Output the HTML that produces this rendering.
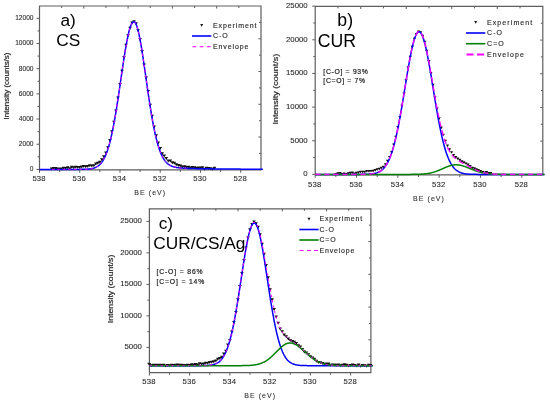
<!DOCTYPE html>
<html><head><meta charset="utf-8"><style>
html,body{margin:0;padding:0;background:#fff;}
body{width:550px;height:402px;overflow:hidden;}
svg{display:block;font-family:"Liberation Sans", Arial, sans-serif;filter:blur(0.25px);}
</style></head><body>
<svg width="550" height="402" viewBox="0 0 550 402">
<rect width="550" height="402" fill="#fff"/>
<path d="M39.5,169.8V6H261V169.8H39.5" fill="none" stroke="#5e5e5e" stroke-width="1.2"/>
<path d="M61.65,6v2M261,22.38h-2M83.80,6v2.6M261,38.76h-2.6M105.95,6v2M261,55.14h-2M128.10,6v2.6M261,71.52h-2.6M150.25,6v2M261,87.90h-2M172.40,6v2.6M261,104.28h-2.6M194.55,6v2M261,120.66h-2M216.70,6v2.6M261,137.04h-2.6M238.85,6v2M261,153.42h-2M39.50,169.8v3M59.62,169.8v2.2M79.74,169.8v3M99.86,169.8v2.2M119.98,169.8v3M140.10,169.8v2.2M160.22,169.8v3M180.34,169.8v2.2M200.46,169.8v3M220.58,169.8v2.2M240.70,169.8v3M39.5,169.40h-3M39.5,144.22h-3M39.5,119.04h-3M39.5,93.86h-3M39.5,68.68h-3M39.5,43.50h-3M39.5,18.32h-3M39.5,156.81h-2M39.5,131.63h-2M39.5,106.45h-2M39.5,81.27h-2M39.5,56.09h-2M39.5,30.91h-2" fill="none" stroke="#5e5e5e" stroke-width="1"/>
<path d="M49.77,167.57h3.6l-1.8,3.0zM51.78,166.92h3.6l-1.8,3.0zM53.80,166.92h3.6l-1.8,3.0zM55.81,167.62h3.6l-1.8,3.0zM57.82,167.46h3.6l-1.8,3.0zM59.83,167.40h3.6l-1.8,3.0zM61.84,166.76h3.6l-1.8,3.0zM63.86,166.88h3.6l-1.8,3.0zM65.87,166.36h3.6l-1.8,3.0zM67.88,167.34h3.6l-1.8,3.0zM69.89,165.68h3.6l-1.8,3.0zM71.90,166.25h3.6l-1.8,3.0zM73.92,165.74h3.6l-1.8,3.0zM75.93,165.93h3.6l-1.8,3.0zM77.94,165.90h3.6l-1.8,3.0zM79.95,165.38h3.6l-1.8,3.0zM81.96,165.06h3.6l-1.8,3.0zM83.98,165.31h3.6l-1.8,3.0zM85.99,165.04h3.6l-1.8,3.0zM88.00,164.35h3.6l-1.8,3.0zM90.01,164.59h3.6l-1.8,3.0zM92.02,164.24h3.6l-1.8,3.0zM94.04,162.51h3.6l-1.8,3.0zM96.05,161.70h3.6l-1.8,3.0zM98.06,160.87h3.6l-1.8,3.0zM100.07,158.31h3.6l-1.8,3.0zM102.08,155.21h3.6l-1.8,3.0zM104.10,151.51h3.6l-1.8,3.0zM106.11,146.35h3.6l-1.8,3.0zM108.12,138.95h3.6l-1.8,3.0zM110.13,130.20h3.6l-1.8,3.0zM112.14,120.77h3.6l-1.8,3.0zM114.16,109.60h3.6l-1.8,3.0zM116.17,96.51h3.6l-1.8,3.0zM118.18,82.96h3.6l-1.8,3.0zM120.19,69.76h3.6l-1.8,3.0zM122.20,56.14h3.6l-1.8,3.0zM124.22,43.84h3.6l-1.8,3.0zM126.23,34.19h3.6l-1.8,3.0zM128.24,26.64h3.6l-1.8,3.0zM130.25,21.40h3.6l-1.8,3.0zM132.26,20.14h3.6l-1.8,3.0zM134.28,22.26h3.6l-1.8,3.0zM136.29,29.32h3.6l-1.8,3.0zM138.30,38.23h3.6l-1.8,3.0zM140.31,49.90h3.6l-1.8,3.0zM142.32,63.44h3.6l-1.8,3.0zM144.34,76.47h3.6l-1.8,3.0zM146.35,90.08h3.6l-1.8,3.0zM148.36,103.74h3.6l-1.8,3.0zM150.37,114.74h3.6l-1.8,3.0zM152.38,125.46h3.6l-1.8,3.0zM154.40,134.31h3.6l-1.8,3.0zM156.41,141.57h3.6l-1.8,3.0zM158.42,146.98h3.6l-1.8,3.0zM160.43,152.30h3.6l-1.8,3.0zM162.44,154.62h3.6l-1.8,3.0zM164.46,156.88h3.6l-1.8,3.0zM166.47,159.46h3.6l-1.8,3.0zM168.48,159.53h3.6l-1.8,3.0zM170.49,161.20h3.6l-1.8,3.0zM172.50,161.87h3.6l-1.8,3.0zM174.52,163.34h3.6l-1.8,3.0zM176.53,163.96h3.6l-1.8,3.0zM178.54,164.52h3.6l-1.8,3.0zM180.55,165.44h3.6l-1.8,3.0zM182.56,165.14h3.6l-1.8,3.0zM184.58,165.77h3.6l-1.8,3.0zM186.59,165.82h3.6l-1.8,3.0zM188.60,166.56h3.6l-1.8,3.0zM190.61,165.99h3.6l-1.8,3.0zM192.62,166.33h3.6l-1.8,3.0zM194.64,166.80h3.6l-1.8,3.0zM196.65,166.57h3.6l-1.8,3.0zM198.66,166.41h3.6l-1.8,3.0zM200.67,166.23h3.6l-1.8,3.0zM202.68,167.76h3.6l-1.8,3.0zM204.70,166.73h3.6l-1.8,3.0zM206.71,166.96h3.6l-1.8,3.0zM208.72,167.26h3.6l-1.8,3.0zM210.73,167.70h3.6l-1.8,3.0zM212.74,166.75h3.6l-1.8,3.0z" fill="#111"/>
<path d="M39.50,169.40L39.90,169.40L40.30,169.40L40.71,169.40L41.11,169.40L41.51,169.40L41.91,169.40L42.32,169.40L42.72,169.40L43.12,169.40L43.52,169.40L43.93,169.40L44.33,169.40L44.73,169.40L45.13,169.40L45.54,169.40L45.94,169.40L46.34,169.40L46.74,169.40L47.15,169.40L47.55,169.40L47.95,169.40L48.35,169.40L48.76,169.40L49.16,169.40L49.56,169.40L49.96,169.40L50.36,169.40L50.77,169.40L51.17,169.40L51.57,169.40L51.97,169.40L52.38,169.40L52.78,169.40L53.18,169.40L53.58,169.40L53.99,169.40L54.39,169.40L54.79,169.40L55.19,169.40L55.60,169.40L56.00,169.40L56.40,169.40L56.80,169.40L57.21,169.40L57.61,169.40L58.01,169.40L58.41,169.40L58.82,169.40L59.22,169.40L59.62,169.40L60.02,169.40L60.42,169.40L60.83,169.40L61.23,169.40L61.63,169.40L62.03,169.40L62.44,169.40L62.84,169.40L63.24,169.40L63.64,169.40L64.05,169.40L64.45,169.40L64.85,169.40L65.25,169.40L65.66,169.40L66.06,169.40L66.46,169.40L66.86,169.40L67.27,169.40L67.67,169.40L68.07,169.40L68.47,169.40L68.88,169.40L69.28,169.40L69.68,169.40L70.08,169.40L70.48,169.40L70.89,169.40L71.29,169.40L71.69,169.40L72.09,169.40L72.50,169.40L72.90,169.40L73.30,169.40L73.70,169.40L74.11,169.40L74.51,169.40L74.91,169.39L75.31,169.39L75.72,169.39L76.12,169.39L76.52,169.39L76.92,169.39L77.33,169.39L77.73,169.39L78.13,169.38L78.53,169.38L78.94,169.38L79.34,169.38L79.74,169.37L80.14,169.37L80.54,169.37L80.95,169.36L81.35,169.36L81.75,169.35L82.15,169.34L82.56,169.34L82.96,169.33L83.36,169.32L83.76,169.31L84.17,169.30L84.57,169.29L84.97,169.27L85.37,169.26L85.78,169.24L86.18,169.22L86.58,169.20L86.98,169.18L87.39,169.15L87.79,169.12L88.19,169.09L88.59,169.05L89.00,169.01L89.40,168.97L89.80,168.92L90.20,168.87L90.60,168.81L91.01,168.75L91.41,168.68L91.81,168.60L92.21,168.52L92.62,168.43L93.02,168.33L93.42,168.22L93.82,168.10L94.23,167.97L94.63,167.83L95.03,167.67L95.43,167.51L95.84,167.33L96.24,167.13L96.64,166.92L97.04,166.69L97.45,166.45L97.85,166.18L98.25,165.90L98.65,165.59L99.06,165.26L99.46,164.90L99.86,164.52L100.26,164.11L100.66,163.67L101.07,163.21L101.47,162.71L101.87,162.18L102.27,161.61L102.68,161.00L103.08,160.36L103.48,159.68L103.88,158.96L104.29,158.19L104.69,157.38L105.09,156.53L105.49,155.62L105.90,154.67L106.30,153.66L106.70,152.60L107.10,151.49L107.51,150.33L107.91,149.10L108.31,147.82L108.71,146.48L109.12,145.08L109.52,143.62L109.92,142.10L110.32,140.51L110.72,138.87L111.13,137.16L111.53,135.38L111.93,133.55L112.33,131.65L112.74,129.69L113.14,127.66L113.54,125.58L113.94,123.44L114.35,121.23L114.75,118.97L115.15,116.66L115.55,114.29L115.96,111.86L116.36,109.39L116.76,106.88L117.16,104.32L117.57,101.72L117.97,99.09L118.37,96.42L118.77,93.72L119.18,91.00L119.58,88.26L119.98,85.50L120.38,82.74L120.78,79.97L121.19,77.19L121.59,74.43L121.99,71.67L122.39,68.93L122.80,66.21L123.20,63.52L123.60,60.86L124.00,58.25L124.41,55.68L124.81,53.16L125.21,50.70L125.61,48.30L126.02,45.98L126.42,43.73L126.82,41.56L127.22,39.48L127.63,37.49L128.03,35.60L128.43,33.81L128.83,32.13L129.24,30.56L129.64,29.11L130.04,27.78L130.44,26.57L130.84,25.49L131.25,24.55L131.65,23.73L132.05,23.05L132.45,22.51L132.86,22.11L133.26,21.85L133.66,21.73L134.06,21.75L134.47,21.94L134.87,22.28L135.27,22.78L135.67,23.44L136.08,24.25L136.48,25.21L136.88,26.31L137.28,27.56L137.69,28.95L138.09,30.47L138.49,32.11L138.89,33.88L139.30,35.77L139.70,37.76L140.10,39.86L140.50,42.06L140.90,44.34L141.31,46.71L141.71,49.15L142.11,51.66L142.51,54.24L142.92,56.87L143.32,59.54L143.72,62.26L144.12,65.01L144.53,67.80L144.93,70.60L145.33,73.42L145.73,76.24L146.14,79.07L146.54,81.90L146.94,84.72L147.34,87.52L147.75,90.31L148.15,93.07L148.55,95.81L148.95,98.51L149.36,101.18L149.76,103.80L150.16,106.38L150.56,108.92L150.96,111.40L151.37,113.83L151.77,116.21L152.17,118.53L152.57,120.79L152.98,122.99L153.38,125.12L153.78,127.20L154.18,129.21L154.59,131.15L154.99,133.03L155.39,134.84L155.79,136.59L156.20,138.28L156.60,139.90L157.00,141.45L157.40,142.94L157.81,144.37L158.21,145.74L158.61,147.04L159.01,148.29L159.42,149.48L159.82,150.61L160.22,151.69L160.62,152.71L161.02,153.68L161.43,154.60L161.83,155.47L162.23,156.30L162.63,157.08L163.04,157.81L163.44,158.50L163.84,159.16L164.24,159.77L164.65,160.35L165.05,160.89L165.45,161.40L165.85,161.88L166.26,162.33L166.66,162.75L167.06,163.14L167.46,163.50L167.87,163.85L168.27,164.16L168.67,164.46L169.07,164.74L169.48,165.00L169.88,165.24L170.28,165.46L170.68,165.67L171.08,165.86L171.49,166.04L171.89,166.21L172.29,166.36L172.69,166.51L173.10,166.64L173.50,166.76L173.90,166.88L174.30,166.98L174.71,167.08L175.11,167.17L175.51,167.26L175.91,167.34L176.32,167.41L176.72,167.48L177.12,167.55L177.52,167.61L177.93,167.66L178.33,167.71L178.73,167.76L179.13,167.81L179.54,167.85L179.94,167.89L180.34,167.93L180.74,167.96L181.14,168.00L181.55,168.03L181.95,168.06L182.35,168.09L182.75,168.12L183.16,168.14L183.56,168.16L183.96,168.19L184.36,168.21L184.77,168.23L185.17,168.25L185.57,168.27L185.97,168.29L186.38,168.31L186.78,168.33L187.18,168.34L187.58,168.36L187.99,168.38L188.39,168.39L188.79,168.41L189.19,168.42L189.60,168.43L190.00,168.45L190.40,168.46L190.80,168.47L191.20,168.49L191.61,168.50L192.01,168.51L192.41,168.52L192.81,168.53L193.22,168.55L193.62,168.56L194.02,168.57L194.42,168.58L194.83,168.59L195.23,168.60L195.63,168.61L196.03,168.62L196.44,168.63L196.84,168.64L197.24,168.65L197.64,168.66L198.05,168.66L198.45,168.67L198.85,168.68L199.25,168.69L199.66,168.70L200.06,168.71L200.46,168.71L200.86,168.72L201.26,168.73L201.67,168.74L202.07,168.74L202.47,168.75L202.87,168.76L203.28,168.77L203.68,168.77L204.08,168.78L204.48,168.79L204.89,168.79L205.29,168.80L205.69,168.81L206.09,168.81L206.50,168.82L206.90,168.83L207.30,168.83L207.70,168.84L208.11,168.84L208.51,168.85L208.91,168.85L209.31,168.86L209.72,168.87L210.12,168.87L210.52,168.88L210.92,168.88L211.32,168.89L211.73,168.89L212.13,168.90L212.53,168.90L212.93,168.91L213.34,168.91L213.74,168.92L214.14,168.92L214.54,168.93L214.95,168.93L215.35,168.93L215.75,168.94L216.15,168.94L216.56,168.95L216.96,168.95L217.36,168.96L217.76,168.96L218.17,168.96L218.57,168.97L218.97,168.97L219.37,168.98L219.78,168.98L220.18,168.98L220.58,168.99L220.98,168.99L221.38,168.99L221.79,169.00L222.19,169.00L222.59,169.01L222.99,169.01L223.40,169.01L223.80,169.02L224.20,169.02L224.60,169.02L225.01,169.03L225.41,169.03L225.81,169.03L226.21,169.03L226.62,169.04L227.02,169.04L227.42,169.04L227.82,169.05L228.23,169.05L228.63,169.05L229.03,169.06L229.43,169.06L229.84,169.06L230.24,169.06L230.64,169.07L231.04,169.07L231.44,169.07L231.85,169.07L232.25,169.08L232.65,169.08L233.05,169.08L233.46,169.09L233.86,169.09L234.26,169.09L234.66,169.09L235.07,169.09L235.47,169.10L235.87,169.10L236.27,169.10L236.68,169.10L237.08,169.11L237.48,169.11L237.88,169.11L238.29,169.11L238.69,169.12L239.09,169.12L239.49,169.12L239.90,169.12L240.30,169.12L240.70,169.13L241.10,169.13L241.50,169.13L241.91,169.13L242.31,169.13L242.71,169.14L243.11,169.14L243.52,169.14L243.92,169.14L244.32,169.14L244.72,169.14L245.13,169.15L245.53,169.15L245.93,169.15L246.33,169.15L246.74,169.15L247.14,169.16L247.54,169.16L247.94,169.16L248.35,169.16L248.75,169.16L249.15,169.16L249.55,169.17L249.96,169.17L250.36,169.17L250.76,169.17L251.16,169.17L251.56,169.17L251.97,169.17L252.37,169.18L252.77,169.18L253.17,169.18L253.58,169.18L253.98,169.18L254.38,169.18L254.78,169.18L255.19,169.19L255.59,169.19L255.99,169.19L256.39,169.19L256.80,169.19L257.20,169.19L257.60,169.19L258.00,169.20L258.41,169.20L258.81,169.20L259.21,169.20L259.61,169.20L260.02,169.20L260.42,169.20L260.82,169.20L261.22,169.21L261.62,169.21L262.03,169.21L262.43,169.21L262.83,169.21" fill="none" stroke="#0000ff" stroke-width="1.5"/>
<path d="M51.97,169.40L52.38,169.40L52.78,169.40L53.18,169.40L53.58,169.40L53.99,169.40L54.39,169.40L54.79,169.40L55.19,169.40L55.60,169.40L56.00,169.40L56.40,169.40L56.80,169.40L57.21,169.40L57.61,169.40L58.01,169.40L58.41,169.40L58.82,169.40L59.22,169.40L59.62,169.40L60.02,169.40L60.42,169.40L60.83,169.40L61.23,169.40L61.63,169.40L62.03,169.40L62.44,169.40L62.84,169.40L63.24,169.40L63.64,169.40L64.05,169.40L64.45,169.40L64.85,169.40L65.25,169.40L65.66,169.40L66.06,169.40L66.46,169.40L66.86,169.40L67.27,169.40L67.67,169.40L68.07,169.40L68.47,169.40L68.88,169.40L69.28,169.40L69.68,169.40L70.08,169.40L70.48,169.40L70.89,169.40L71.29,169.40L71.69,169.40L72.09,169.40L72.50,169.40L72.90,169.40L73.30,169.40L73.70,169.40L74.11,169.40L74.51,169.40L74.91,169.39L75.31,169.39L75.72,169.39L76.12,169.39L76.52,169.39L76.92,169.39L77.33,169.39L77.73,169.39L78.13,169.38L78.53,169.38L78.94,169.38L79.34,169.38L79.74,169.37L80.14,169.37L80.54,169.37L80.95,169.36L81.35,169.36L81.75,169.35L82.15,169.34L82.56,169.34L82.96,169.33L83.36,169.32L83.76,169.31L84.17,169.30L84.57,169.29L84.97,169.27L85.37,169.26L85.78,169.24L86.18,169.22L86.58,169.20L86.98,169.18L87.39,169.15L87.79,169.12L88.19,169.09L88.59,169.05L89.00,169.01L89.40,168.97L89.80,168.92L90.20,168.87L90.60,168.81L91.01,168.75L91.41,168.68L91.81,168.60L92.21,168.52L92.62,168.43L93.02,168.33L93.42,168.22L93.82,168.10L94.23,167.97L94.63,167.83L95.03,167.67L95.43,167.51L95.84,167.33L96.24,167.13L96.64,166.92L97.04,166.69L97.45,166.45L97.85,166.18L98.25,165.90L98.65,165.59L99.06,165.26L99.46,164.90L99.86,164.52L100.26,164.11L100.66,163.67L101.07,163.21L101.47,162.71L101.87,162.18L102.27,161.61L102.68,161.00L103.08,160.36L103.48,159.68L103.88,158.96L104.29,158.19L104.69,157.38L105.09,156.53L105.49,155.62L105.90,154.67L106.30,153.66L106.70,152.60L107.10,151.49L107.51,150.33L107.91,149.10L108.31,147.82L108.71,146.48L109.12,145.08L109.52,143.62L109.92,142.10L110.32,140.51L110.72,138.87L111.13,137.16L111.53,135.38L111.93,133.55L112.33,131.65L112.74,129.69L113.14,127.66L113.54,125.58L113.94,123.44L114.35,121.23L114.75,118.97L115.15,116.66L115.55,114.29L115.96,111.86L116.36,109.39L116.76,106.88L117.16,104.32L117.57,101.72L117.97,99.09L118.37,96.42L118.77,93.72L119.18,91.00L119.58,88.26L119.98,85.50L120.38,82.74L120.78,79.97L121.19,77.19L121.59,74.43L121.99,71.67L122.39,68.93L122.80,66.21L123.20,63.52L123.60,60.86L124.00,58.25L124.41,55.68L124.81,53.16L125.21,50.70L125.61,48.30L126.02,45.98L126.42,43.73L126.82,41.56L127.22,39.48L127.63,37.49L128.03,35.60L128.43,33.81L128.83,32.13L129.24,30.56L129.64,29.11L130.04,27.78L130.44,26.57L130.84,25.49L131.25,24.55L131.65,23.73L132.05,23.05L132.45,22.51L132.86,22.11L133.26,21.85L133.66,21.73L134.06,21.75L134.47,21.94L134.87,22.28L135.27,22.78L135.67,23.44L136.08,24.25L136.48,25.21L136.88,26.31L137.28,27.56L137.69,28.95L138.09,30.47L138.49,32.11L138.89,33.88L139.30,35.77L139.70,37.76L140.10,39.86L140.50,42.06L140.90,44.34L141.31,46.71L141.71,49.15L142.11,51.66L142.51,54.24L142.92,56.87L143.32,59.54L143.72,62.26L144.12,65.01L144.53,67.80L144.93,70.60L145.33,73.42L145.73,76.24L146.14,79.07L146.54,81.90L146.94,84.72L147.34,87.52L147.75,90.31L148.15,93.07L148.55,95.81L148.95,98.51L149.36,101.18L149.76,103.80L150.16,106.38L150.56,108.92L150.96,111.40L151.37,113.83L151.77,116.21L152.17,118.53L152.57,120.79L152.98,122.99L153.38,125.12L153.78,127.20L154.18,129.21L154.59,131.15L154.99,133.03L155.39,134.84L155.79,136.59L156.20,138.28L156.60,139.90L157.00,141.45L157.40,142.94L157.81,144.37L158.21,145.74L158.61,147.04L159.01,148.29L159.42,149.48L159.82,150.61L160.22,151.69L160.62,152.71L161.02,153.68L161.43,154.60L161.83,155.47L162.23,156.30L162.63,157.08L163.04,157.81L163.44,158.50L163.84,159.16L164.24,159.77L164.65,160.35L165.05,160.89L165.45,161.40L165.85,161.88L166.26,162.33L166.66,162.75L167.06,163.14L167.46,163.50L167.87,163.85L168.27,164.16L168.67,164.46L169.07,164.74L169.48,165.00L169.88,165.24L170.28,165.46L170.68,165.67L171.08,165.86L171.49,166.04L171.89,166.21L172.29,166.36L172.69,166.51L173.10,166.64L173.50,166.76L173.90,166.88L174.30,166.98L174.71,167.08L175.11,167.17L175.51,167.26L175.91,167.34L176.32,167.41L176.72,167.48L177.12,167.55L177.52,167.61L177.93,167.66L178.33,167.71L178.73,167.76L179.13,167.81L179.54,167.85L179.94,167.89L180.34,167.93L180.74,167.96L181.14,168.00L181.55,168.03L181.95,168.06L182.35,168.09L182.75,168.12L183.16,168.14L183.56,168.16L183.96,168.19L184.36,168.21L184.77,168.23L185.17,168.25L185.57,168.27L185.97,168.29L186.38,168.31" fill="none" stroke="#ff00ff" stroke-width="1.0" stroke-dasharray="2.5 3"/>
<text x="33.5" y="171.38" font-size="6.6" text-anchor="end" fill="#2a2a2a" stroke="#2a2a2a" stroke-width="0.1" letter-spacing="0">0</text>
<text x="33.5" y="146.20" font-size="6.6" text-anchor="end" fill="#2a2a2a" stroke="#2a2a2a" stroke-width="0.1" letter-spacing="0">2000</text>
<text x="33.5" y="121.02" font-size="6.6" text-anchor="end" fill="#2a2a2a" stroke="#2a2a2a" stroke-width="0.1" letter-spacing="0">4000</text>
<text x="33.5" y="95.84" font-size="6.6" text-anchor="end" fill="#2a2a2a" stroke="#2a2a2a" stroke-width="0.1" letter-spacing="0">6000</text>
<text x="33.5" y="70.66" font-size="6.6" text-anchor="end" fill="#2a2a2a" stroke="#2a2a2a" stroke-width="0.1" letter-spacing="0">8000</text>
<text x="33.5" y="45.48" font-size="6.6" text-anchor="end" fill="#2a2a2a" stroke="#2a2a2a" stroke-width="0.1" letter-spacing="0">10000</text>
<text x="33.5" y="20.30" font-size="6.6" text-anchor="end" fill="#2a2a2a" stroke="#2a2a2a" stroke-width="0.1" letter-spacing="0">12000</text>
<text x="39.10" y="180.8" font-size="7.7" text-anchor="middle" fill="#2a2a2a" stroke="#2a2a2a" stroke-width="0.1" letter-spacing="0.2">538</text>
<text x="79.34" y="180.8" font-size="7.7" text-anchor="middle" fill="#2a2a2a" stroke="#2a2a2a" stroke-width="0.1" letter-spacing="0.2">536</text>
<text x="119.58" y="180.8" font-size="7.7" text-anchor="middle" fill="#2a2a2a" stroke="#2a2a2a" stroke-width="0.1" letter-spacing="0.2">534</text>
<text x="159.82" y="180.8" font-size="7.7" text-anchor="middle" fill="#2a2a2a" stroke="#2a2a2a" stroke-width="0.1" letter-spacing="0.2">532</text>
<text x="200.06" y="180.8" font-size="7.7" text-anchor="middle" fill="#2a2a2a" stroke="#2a2a2a" stroke-width="0.1" letter-spacing="0.2">530</text>
<text x="240.30" y="180.8" font-size="7.7" text-anchor="middle" fill="#2a2a2a" stroke="#2a2a2a" stroke-width="0.1" letter-spacing="0.2">528</text>
<text x="150.25" y="195" font-size="7" text-anchor="middle" fill="#2a2a2a" stroke="#2a2a2a" stroke-width="0.06" letter-spacing="1.05">BE (eV)</text>
<text transform="translate(9.0,86) rotate(-90) scale(1,0.85)" font-size="8.0" text-anchor="middle" fill="#2a2a2a" stroke="#2a2a2a" stroke-width="0.25">Intensity (counts/s)</text>
<text x="60.5" y="26" font-size="17.3" fill="#000">a)</text>
<text x="56.2" y="46.4" font-size="17.3" fill="#000">CS</text>
<path d="M200.20,24.10h3l-1.5,2.6z" fill="#111"/>
<text x="213" y="27.50" font-size="7" fill="#2a2a2a" stroke="#2a2a2a" stroke-width="0.14" letter-spacing="0.9">Experiment</text>
<path d="M192,36.00h19.3" stroke="#0000ff" stroke-width="1.6"/>
<text x="213" y="38.20" font-size="7" fill="#2a2a2a" stroke="#2a2a2a" stroke-width="0.14" letter-spacing="0.9">C-O</text>
<path d="M192.5,46.70h19" stroke="#ff00ff" stroke-width="1.1" stroke-dasharray="3.8 3.4"/>
<text x="213" y="48.90" font-size="7" fill="#2a2a2a" stroke="#2a2a2a" stroke-width="0.14" letter-spacing="0.9">Envelope</text>
<path d="M315.2,174.8V6.4H542.8V174.8H315.2" fill="none" stroke="#5e5e5e" stroke-width="1.2"/>
<path d="M337.96,6.4v2M542.8,23.24h-2M360.72,6.4v2.6M542.8,40.08h-2.6M383.48,6.4v2M542.8,56.92h-2M406.24,6.4v2.6M542.8,73.76h-2.6M429.00,6.4v2M542.8,90.60h-2M451.76,6.4v2.6M542.8,107.44h-2.6M474.52,6.4v2M542.8,124.28h-2M497.28,6.4v2.6M542.8,141.12h-2.6M520.04,6.4v2M542.8,157.96h-2M315.20,174.8v3M335.86,174.8v2.2M356.52,174.8v3M377.18,174.8v2.2M397.84,174.8v3M418.50,174.8v2.2M439.16,174.8v3M459.82,174.8v2.2M480.48,174.8v3M501.14,174.8v2.2M521.80,174.8v3M315.2,174.40h-3M315.2,140.75h-3M315.2,107.10h-3M315.2,73.45h-3M315.2,39.80h-3M315.2,6.15h-3M315.2,157.58h-2M315.2,123.93h-2M315.2,90.28h-2M315.2,56.63h-2M315.2,22.98h-2" fill="none" stroke="#5e5e5e" stroke-width="1"/>
<path d="M334.26,172.89h3.2l-1.6,2.7zM336.33,172.34h3.2l-1.6,2.7zM338.39,172.12h3.2l-1.6,2.7zM340.46,173.00h3.2l-1.6,2.7zM342.52,172.60h3.2l-1.6,2.7zM344.59,172.91h3.2l-1.6,2.7zM346.66,172.30h3.2l-1.6,2.7zM348.72,171.78h3.2l-1.6,2.7zM350.79,171.49h3.2l-1.6,2.7zM352.85,172.51h3.2l-1.6,2.7zM354.92,171.87h3.2l-1.6,2.7zM356.99,171.21h3.2l-1.6,2.7zM359.05,170.66h3.2l-1.6,2.7zM361.12,170.72h3.2l-1.6,2.7zM363.18,170.77h3.2l-1.6,2.7zM365.25,170.12h3.2l-1.6,2.7zM367.32,170.06h3.2l-1.6,2.7zM369.38,169.90h3.2l-1.6,2.7zM371.45,169.74h3.2l-1.6,2.7zM373.51,168.94h3.2l-1.6,2.7zM375.58,168.30h3.2l-1.6,2.7zM377.65,167.81h3.2l-1.6,2.7zM379.71,166.84h3.2l-1.6,2.7zM381.78,165.63h3.2l-1.6,2.7zM383.84,163.18h3.2l-1.6,2.7zM385.91,159.63h3.2l-1.6,2.7zM387.98,155.91h3.2l-1.6,2.7zM390.04,150.99h3.2l-1.6,2.7zM392.11,143.56h3.2l-1.6,2.7zM394.17,135.86h3.2l-1.6,2.7zM396.24,126.08h3.2l-1.6,2.7zM398.31,116.14h3.2l-1.6,2.7zM400.37,104.72h3.2l-1.6,2.7zM402.44,92.54h3.2l-1.6,2.7zM404.50,79.00h3.2l-1.6,2.7zM406.57,66.24h3.2l-1.6,2.7zM408.64,55.81h3.2l-1.6,2.7zM410.70,45.84h3.2l-1.6,2.7zM412.77,37.67h3.2l-1.6,2.7zM414.83,32.88h3.2l-1.6,2.7zM416.90,30.39h3.2l-1.6,2.7zM418.97,31.13h3.2l-1.6,2.7zM421.03,34.65h3.2l-1.6,2.7zM423.10,40.78h3.2l-1.6,2.7zM425.16,49.81h3.2l-1.6,2.7zM427.23,59.99h3.2l-1.6,2.7zM429.30,71.99h3.2l-1.6,2.7zM431.36,83.87h3.2l-1.6,2.7zM433.43,96.50h3.2l-1.6,2.7zM435.49,107.59h3.2l-1.6,2.7zM437.56,117.24h3.2l-1.6,2.7zM439.63,126.51h3.2l-1.6,2.7zM441.69,133.65h3.2l-1.6,2.7zM443.76,139.80h3.2l-1.6,2.7zM445.82,144.43h3.2l-1.6,2.7zM447.89,148.35h3.2l-1.6,2.7zM449.96,151.13h3.2l-1.6,2.7zM452.02,153.90h3.2l-1.6,2.7zM454.09,155.97h3.2l-1.6,2.7zM456.15,157.51h3.2l-1.6,2.7zM458.22,158.71h3.2l-1.6,2.7zM460.29,160.21h3.2l-1.6,2.7zM462.35,161.24h3.2l-1.6,2.7zM464.42,162.38h3.2l-1.6,2.7zM466.48,163.52h3.2l-1.6,2.7zM468.55,164.99h3.2l-1.6,2.7zM470.62,166.70h3.2l-1.6,2.7zM472.68,167.31h3.2l-1.6,2.7zM474.75,168.31h3.2l-1.6,2.7zM476.81,168.96h3.2l-1.6,2.7zM478.88,169.92h3.2l-1.6,2.7zM480.95,170.92h3.2l-1.6,2.7zM483.01,171.48h3.2l-1.6,2.7zM485.08,171.12h3.2l-1.6,2.7zM487.14,171.88h3.2l-1.6,2.7zM489.21,171.88h3.2l-1.6,2.7z" fill="#111"/>
<path d="M315.20,174.40L315.61,174.40L316.03,174.40L316.44,174.40L316.85,174.40L317.27,174.40L317.68,174.40L318.09,174.40L318.51,174.40L318.92,174.40L319.33,174.40L319.75,174.40L320.16,174.40L320.57,174.40L320.98,174.40L321.40,174.40L321.81,174.40L322.22,174.40L322.64,174.40L323.05,174.40L323.46,174.40L323.88,174.40L324.29,174.40L324.70,174.40L325.12,174.40L325.53,174.40L325.94,174.40L326.36,174.40L326.77,174.40L327.18,174.40L327.60,174.40L328.01,174.40L328.42,174.40L328.84,174.40L329.25,174.40L329.66,174.40L330.08,174.40L330.49,174.40L330.90,174.40L331.31,174.40L331.73,174.40L332.14,174.40L332.55,174.40L332.97,174.40L333.38,174.40L333.79,174.40L334.21,174.40L334.62,174.40L335.03,174.40L335.45,174.40L335.86,174.40L336.27,174.40L336.69,174.40L337.10,174.40L337.51,174.40L337.93,174.40L338.34,174.40L338.75,174.40L339.17,174.40L339.58,174.40L339.99,174.40L340.41,174.40L340.82,174.40L341.23,174.40L341.64,174.40L342.06,174.40L342.47,174.40L342.88,174.40L343.30,174.40L343.71,174.40L344.12,174.40L344.54,174.40L344.95,174.40L345.36,174.40L345.78,174.40L346.19,174.40L346.60,174.40L347.02,174.40L347.43,174.40L347.84,174.40L348.26,174.40L348.67,174.40L349.08,174.40L349.50,174.40L349.91,174.40L350.32,174.40L350.74,174.40L351.15,174.40L351.56,174.40L351.97,174.40L352.39,174.40L352.80,174.40L353.21,174.40L353.63,174.40L354.04,174.40L354.45,174.40L354.87,174.40L355.28,174.40L355.69,174.39L356.11,174.39L356.52,174.39L356.93,174.39L357.35,174.39L357.76,174.39L358.17,174.39L358.59,174.39L359.00,174.38L359.41,174.38L359.83,174.38L360.24,174.38L360.65,174.37L361.07,174.37L361.48,174.37L361.89,174.36L362.30,174.36L362.72,174.35L363.13,174.35L363.54,174.34L363.96,174.33L364.37,174.33L364.78,174.32L365.20,174.31L365.61,174.30L366.02,174.28L366.44,174.27L366.85,174.25L367.26,174.24L367.68,174.22L368.09,174.20L368.50,174.18L368.92,174.15L369.33,174.12L369.74,174.09L370.16,174.06L370.57,174.02L370.98,173.99L371.40,173.94L371.81,173.89L372.22,173.84L372.63,173.78L373.05,173.72L373.46,173.65L373.87,173.58L374.29,173.50L374.70,173.41L375.11,173.31L375.53,173.21L375.94,173.10L376.35,172.98L376.77,172.84L377.18,172.70L377.59,172.54L378.01,172.38L378.42,172.20L378.83,172.00L379.25,171.79L379.66,171.57L380.07,171.33L380.49,171.07L380.90,170.79L381.31,170.49L381.73,170.17L382.14,169.83L382.55,169.47L382.96,169.08L383.38,168.66L383.79,168.22L384.20,167.75L384.62,167.25L385.03,166.72L385.44,166.16L385.86,165.57L386.27,164.94L386.68,164.27L387.10,163.56L387.51,162.82L387.92,162.04L388.34,161.21L388.75,160.34L389.16,159.43L389.58,158.47L389.99,157.47L390.40,156.42L390.82,155.32L391.23,154.17L391.64,152.96L392.06,151.71L392.47,150.40L392.88,149.05L393.29,147.63L393.71,146.16L394.12,144.64L394.53,143.07L394.95,141.43L395.36,139.75L395.77,138.00L396.19,136.21L396.60,134.36L397.01,132.45L397.43,130.50L397.84,128.49L398.25,126.43L398.67,124.32L399.08,122.17L399.49,119.97L399.91,117.72L400.32,115.44L400.73,113.11L401.15,110.75L401.56,108.36L401.97,105.93L402.39,103.48L402.80,101.00L403.21,98.50L403.62,95.98L404.04,93.45L404.45,90.92L404.86,88.37L405.28,85.83L405.69,83.29L406.10,80.75L406.52,78.23L406.93,75.73L407.34,73.25L407.76,70.80L408.17,68.38L408.58,65.99L409.00,63.65L409.41,61.36L409.82,59.11L410.24,56.93L410.65,54.81L411.06,52.75L411.48,50.77L411.89,48.86L412.30,47.03L412.72,45.29L413.13,43.64L413.54,42.08L413.95,40.62L414.37,39.26L414.78,38.00L415.19,36.85L415.61,35.81L416.02,34.89L416.43,34.08L416.85,33.38L417.26,32.81L417.67,32.35L418.09,32.02L418.50,31.81L418.91,31.73L419.33,31.76L419.74,31.92L420.15,32.21L420.57,32.61L420.98,33.14L421.39,33.78L421.81,34.55L422.22,35.43L422.63,36.42L423.05,37.53L423.46,38.74L423.87,40.06L424.28,41.48L424.70,43.01L425.11,44.62L425.52,46.33L425.94,48.12L426.35,50.00L426.76,51.95L427.18,53.98L427.59,56.07L428.00,58.23L428.42,60.45L428.83,62.73L429.24,65.05L429.66,67.42L430.07,69.82L430.48,72.26L430.90,74.73L431.31,77.23L431.72,79.74L432.14,82.27L432.55,84.81L432.96,87.35L433.38,89.90L433.79,92.44L434.20,94.97L434.61,97.50L435.03,100.00L435.44,102.49L435.85,104.95L436.27,107.39L436.68,109.80L437.09,112.17L437.51,114.51L437.92,116.81L438.33,119.07L438.75,121.29L439.16,123.47L439.57,125.59L439.99,127.67L440.40,129.70L440.81,131.68L441.23,133.60L441.64,135.47L442.05,137.29L442.47,139.06L442.88,140.76L443.29,142.42L443.71,144.02L444.12,145.56L444.53,147.05L444.94,148.49L445.36,149.87L445.77,151.19L446.18,152.47L446.60,153.69L447.01,154.86L447.42,155.98L447.84,157.06L448.25,158.08L448.66,159.05L449.08,159.99L449.49,160.87L449.90,161.71L450.32,162.51L450.73,163.27L451.14,163.99L451.56,164.67L451.97,165.32L452.38,165.93L452.80,166.50L453.21,167.05L453.62,167.56L454.04,168.04L454.45,168.49L454.86,168.92L455.27,169.31L455.69,169.69L456.10,170.04L456.51,170.37L456.93,170.67L457.34,170.96L457.75,171.23L458.17,171.47L458.58,171.71L458.99,171.92L459.41,172.12L459.82,172.31L460.23,172.48L460.65,172.64L461.06,172.79L461.47,172.92L461.89,173.05L462.30,173.17L462.71,173.27L463.13,173.37L463.54,173.46L463.95,173.55L464.37,173.62L464.78,173.69L465.19,173.76L465.60,173.82L466.02,173.87L466.43,173.92L466.84,173.97L467.26,174.01L467.67,174.05L468.08,174.08L468.50,174.11L468.91,174.14L469.32,174.17L469.74,174.19L470.15,174.21L470.56,174.23L470.98,174.25L471.39,174.26L471.80,174.28L472.22,174.29L472.63,174.30L473.04,174.31L473.46,174.32L473.87,174.33L474.28,174.34L474.70,174.34L475.11,174.35L475.52,174.36L475.93,174.36L476.35,174.37L476.76,174.37L477.17,174.37L477.59,174.38L478.00,174.38L478.41,174.38L478.83,174.38L479.24,174.39L479.65,174.39L480.07,174.39L480.48,174.39L480.89,174.39L481.31,174.39L481.72,174.39L482.13,174.39L482.55,174.39L482.96,174.40L483.37,174.40L483.79,174.40L484.20,174.40L484.61,174.40L485.03,174.40L485.44,174.40L485.85,174.40L486.26,174.40L486.68,174.40L487.09,174.40L487.50,174.40L487.92,174.40L488.33,174.40L488.74,174.40L489.16,174.40L489.57,174.40L489.98,174.40L490.40,174.40L490.81,174.40L491.22,174.40L491.64,174.40L492.05,174.40L492.46,174.40L492.88,174.40L493.29,174.40L493.70,174.40L494.12,174.40L494.53,174.40L494.94,174.40L495.36,174.40L495.77,174.40L496.18,174.40L496.59,174.40L497.01,174.40L497.42,174.40L497.83,174.40L498.25,174.40L498.66,174.40L499.07,174.40L499.49,174.40L499.90,174.40L500.31,174.40L500.73,174.40L501.14,174.40L501.55,174.40L501.97,174.40L502.38,174.40L502.79,174.40L503.21,174.40L503.62,174.40L504.03,174.40L504.45,174.40L504.86,174.40L505.27,174.40L505.69,174.40L506.10,174.40L506.51,174.40L506.92,174.40L507.34,174.40L507.75,174.40L508.16,174.40L508.58,174.40L508.99,174.40L509.40,174.40L509.82,174.40L510.23,174.40L510.64,174.40L511.06,174.40L511.47,174.40L511.88,174.40L512.30,174.40L512.71,174.40L513.12,174.40L513.54,174.40L513.95,174.40L514.36,174.40L514.78,174.40L515.19,174.40L515.60,174.40L516.02,174.40L516.43,174.40L516.84,174.40L517.25,174.40L517.67,174.40L518.08,174.40L518.49,174.40L518.91,174.40L519.32,174.40L519.73,174.40L520.15,174.40L520.56,174.40L520.97,174.40L521.39,174.40L521.80,174.40L522.21,174.40L522.63,174.40L523.04,174.40L523.45,174.40L523.87,174.40L524.28,174.40L524.69,174.40L525.11,174.40L525.52,174.40L525.93,174.40L526.35,174.40L526.76,174.40L527.17,174.40L527.58,174.40L528.00,174.40L528.41,174.40L528.82,174.40L529.24,174.40L529.65,174.40L530.06,174.40L530.48,174.40L530.89,174.40L531.30,174.40L531.72,174.40L532.13,174.40L532.54,174.40L532.96,174.40L533.37,174.40L533.78,174.40L534.20,174.40L534.61,174.40L535.02,174.40L535.44,174.40L535.85,174.40L536.26,174.40L536.68,174.40L537.09,174.40L537.50,174.40L537.91,174.40L538.33,174.40L538.74,174.40L539.15,174.40L539.57,174.40L539.98,174.40L540.39,174.40L540.81,174.40L541.22,174.40L541.63,174.40L542.05,174.40L542.46,174.40L542.87,174.40L543.29,174.40L543.70,174.40L544.11,174.40L544.53,174.40" fill="none" stroke="#0000ff" stroke-width="1.5"/>
<path d="M315.20,174.40L315.61,174.40L316.03,174.40L316.44,174.40L316.85,174.40L317.27,174.40L317.68,174.40L318.09,174.40L318.51,174.40L318.92,174.40L319.33,174.40L319.75,174.40L320.16,174.40L320.57,174.40L320.98,174.40L321.40,174.40L321.81,174.40L322.22,174.40L322.64,174.40L323.05,174.40L323.46,174.40L323.88,174.40L324.29,174.40L324.70,174.40L325.12,174.40L325.53,174.40L325.94,174.40L326.36,174.40L326.77,174.40L327.18,174.40L327.60,174.40L328.01,174.40L328.42,174.40L328.84,174.40L329.25,174.40L329.66,174.40L330.08,174.40L330.49,174.40L330.90,174.40L331.31,174.40L331.73,174.40L332.14,174.40L332.55,174.40L332.97,174.40L333.38,174.40L333.79,174.40L334.21,174.40L334.62,174.40L335.03,174.40L335.45,174.40L335.86,174.40L336.27,174.40L336.69,174.40L337.10,174.40L337.51,174.40L337.93,174.40L338.34,174.40L338.75,174.40L339.17,174.40L339.58,174.40L339.99,174.40L340.41,174.40L340.82,174.40L341.23,174.40L341.64,174.40L342.06,174.40L342.47,174.40L342.88,174.40L343.30,174.40L343.71,174.40L344.12,174.40L344.54,174.40L344.95,174.40L345.36,174.40L345.78,174.40L346.19,174.40L346.60,174.40L347.02,174.40L347.43,174.40L347.84,174.40L348.26,174.40L348.67,174.40L349.08,174.40L349.50,174.40L349.91,174.40L350.32,174.40L350.74,174.40L351.15,174.40L351.56,174.40L351.97,174.40L352.39,174.40L352.80,174.40L353.21,174.40L353.63,174.40L354.04,174.40L354.45,174.40L354.87,174.40L355.28,174.40L355.69,174.40L356.11,174.40L356.52,174.40L356.93,174.40L357.35,174.40L357.76,174.40L358.17,174.40L358.59,174.40L359.00,174.40L359.41,174.40L359.83,174.40L360.24,174.40L360.65,174.40L361.07,174.40L361.48,174.40L361.89,174.40L362.30,174.40L362.72,174.40L363.13,174.40L363.54,174.40L363.96,174.40L364.37,174.40L364.78,174.40L365.20,174.40L365.61,174.40L366.02,174.40L366.44,174.40L366.85,174.40L367.26,174.40L367.68,174.40L368.09,174.40L368.50,174.40L368.92,174.40L369.33,174.40L369.74,174.40L370.16,174.40L370.57,174.40L370.98,174.40L371.40,174.40L371.81,174.40L372.22,174.40L372.63,174.40L373.05,174.40L373.46,174.40L373.87,174.40L374.29,174.40L374.70,174.40L375.11,174.40L375.53,174.40L375.94,174.40L376.35,174.40L376.77,174.40L377.18,174.40L377.59,174.40L378.01,174.40L378.42,174.40L378.83,174.40L379.25,174.40L379.66,174.40L380.07,174.40L380.49,174.40L380.90,174.40L381.31,174.40L381.73,174.40L382.14,174.40L382.55,174.40L382.96,174.40L383.38,174.40L383.79,174.40L384.20,174.40L384.62,174.40L385.03,174.40L385.44,174.40L385.86,174.40L386.27,174.40L386.68,174.40L387.10,174.40L387.51,174.40L387.92,174.40L388.34,174.40L388.75,174.40L389.16,174.40L389.58,174.40L389.99,174.40L390.40,174.40L390.82,174.40L391.23,174.40L391.64,174.40L392.06,174.40L392.47,174.40L392.88,174.40L393.29,174.40L393.71,174.40L394.12,174.40L394.53,174.40L394.95,174.40L395.36,174.40L395.77,174.40L396.19,174.40L396.60,174.40L397.01,174.40L397.43,174.40L397.84,174.40L398.25,174.40L398.67,174.40L399.08,174.40L399.49,174.40L399.91,174.40L400.32,174.40L400.73,174.40L401.15,174.40L401.56,174.40L401.97,174.40L402.39,174.40L402.80,174.40L403.21,174.40L403.62,174.40L404.04,174.40L404.45,174.40L404.86,174.40L405.28,174.40L405.69,174.39L406.10,174.39L406.52,174.39L406.93,174.39L407.34,174.39L407.76,174.39L408.17,174.39L408.58,174.39L409.00,174.39L409.41,174.38L409.82,174.38L410.24,174.38L410.65,174.38L411.06,174.37L411.48,174.37L411.89,174.37L412.30,174.36L412.72,174.36L413.13,174.36L413.54,174.35L413.95,174.35L414.37,174.34L414.78,174.33L415.19,174.33L415.61,174.32L416.02,174.31L416.43,174.30L416.85,174.29L417.26,174.28L417.67,174.27L418.09,174.26L418.50,174.25L418.91,174.23L419.33,174.21L419.74,174.20L420.15,174.18L420.57,174.16L420.98,174.14L421.39,174.11L421.81,174.09L422.22,174.06L422.63,174.03L423.05,174.00L423.46,173.97L423.87,173.93L424.28,173.90L424.70,173.86L425.11,173.81L425.52,173.77L425.94,173.72L426.35,173.67L426.76,173.62L427.18,173.56L427.59,173.50L428.00,173.43L428.42,173.37L428.83,173.30L429.24,173.22L429.66,173.14L430.07,173.06L430.48,172.97L430.90,172.88L431.31,172.79L431.72,172.69L432.14,172.59L432.55,172.48L432.96,172.37L433.38,172.25L433.79,172.13L434.20,172.01L434.61,171.88L435.03,171.75L435.44,171.61L435.85,171.47L436.27,171.32L436.68,171.17L437.09,171.02L437.51,170.86L437.92,170.70L438.33,170.54L438.75,170.37L439.16,170.20L439.57,170.03L439.99,169.85L440.40,169.68L440.81,169.50L441.23,169.31L441.64,169.13L442.05,168.95L442.47,168.76L442.88,168.58L443.29,168.39L443.71,168.21L444.12,168.03L444.53,167.84L444.94,167.66L445.36,167.48L445.77,167.31L446.18,167.13L446.60,166.96L447.01,166.80L447.42,166.63L447.84,166.48L448.25,166.32L448.66,166.18L449.08,166.03L449.49,165.90L449.90,165.77L450.32,165.65L450.73,165.53L451.14,165.42L451.56,165.32L451.97,165.23L452.38,165.15L452.80,165.07L453.21,165.01L453.62,164.95L454.04,164.90L454.45,164.86L454.86,164.83L455.27,164.81L455.69,164.80L456.10,164.80L456.51,164.81L456.93,164.83L457.34,164.85L457.75,164.89L458.17,164.93L458.58,164.97L458.99,165.03L459.41,165.09L459.82,165.17L460.23,165.24L460.65,165.33L461.06,165.42L461.47,165.52L461.89,165.63L462.30,165.74L462.71,165.85L463.13,165.98L463.54,166.11L463.95,166.24L464.37,166.38L464.78,166.52L465.19,166.67L465.60,166.82L466.02,166.97L466.43,167.13L466.84,167.29L467.26,167.45L467.67,167.61L468.08,167.78L468.50,167.94L468.91,168.11L469.32,168.28L469.74,168.45L470.15,168.62L470.56,168.79L470.98,168.96L471.39,169.13L471.80,169.30L472.22,169.46L472.63,169.63L473.04,169.79L473.46,169.96L473.87,170.12L474.28,170.27L474.70,170.43L475.11,170.58L475.52,170.73L475.93,170.88L476.35,171.02L476.76,171.16L477.17,171.30L477.59,171.44L478.00,171.57L478.41,171.69L478.83,171.82L479.24,171.94L479.65,172.06L480.07,172.17L480.48,172.28L480.89,172.38L481.31,172.49L481.72,172.58L482.13,172.68L482.55,172.77L482.96,172.86L483.37,172.94L483.79,173.02L484.20,173.10L484.61,173.18L485.03,173.25L485.44,173.31L485.85,173.38L486.26,173.44L486.68,173.50L487.09,173.55L487.50,173.61L487.92,173.66L488.33,173.71L488.74,173.75L489.16,173.79L489.57,173.83L489.98,173.87L490.40,173.91L490.81,173.94L491.22,173.97L491.64,174.00L492.05,174.03L492.46,174.06L492.88,174.08L493.29,174.11L493.70,174.13L494.12,174.15L494.53,174.17L494.94,174.19L495.36,174.20L495.77,174.22L496.18,174.23L496.59,174.25L497.01,174.26L497.42,174.27L497.83,174.28L498.25,174.29L498.66,174.30L499.07,174.31L499.49,174.32L499.90,174.32L500.31,174.33L500.73,174.34L501.14,174.34L501.55,174.35L501.97,174.35L502.38,174.36L502.79,174.36L503.21,174.36L503.62,174.37L504.03,174.37L504.45,174.37L504.86,174.38L505.27,174.38L505.69,174.38L506.10,174.38L506.51,174.38L506.92,174.39L507.34,174.39L507.75,174.39L508.16,174.39L508.58,174.39L508.99,174.39L509.40,174.39L509.82,174.39L510.23,174.39L510.64,174.39L511.06,174.40L511.47,174.40L511.88,174.40L512.30,174.40L512.71,174.40L513.12,174.40L513.54,174.40L513.95,174.40L514.36,174.40L514.78,174.40L515.19,174.40L515.60,174.40L516.02,174.40L516.43,174.40L516.84,174.40L517.25,174.40L517.67,174.40L518.08,174.40L518.49,174.40L518.91,174.40L519.32,174.40L519.73,174.40L520.15,174.40L520.56,174.40L520.97,174.40L521.39,174.40L521.80,174.40L522.21,174.40L522.63,174.40L523.04,174.40L523.45,174.40L523.87,174.40L524.28,174.40L524.69,174.40L525.11,174.40L525.52,174.40L525.93,174.40L526.35,174.40L526.76,174.40L527.17,174.40L527.58,174.40L528.00,174.40L528.41,174.40L528.82,174.40L529.24,174.40L529.65,174.40L530.06,174.40L530.48,174.40L530.89,174.40L531.30,174.40L531.72,174.40L532.13,174.40L532.54,174.40L532.96,174.40L533.37,174.40L533.78,174.40L534.20,174.40L534.61,174.40L535.02,174.40L535.44,174.40L535.85,174.40L536.26,174.40L536.68,174.40L537.09,174.40L537.50,174.40L537.91,174.40L538.33,174.40L538.74,174.40L539.15,174.40L539.57,174.40L539.98,174.40L540.39,174.40L540.81,174.40L541.22,174.40L541.63,174.40L542.05,174.40L542.46,174.40L542.87,174.40L543.29,174.40L543.70,174.40L544.11,174.40L544.53,174.40" fill="none" stroke="#008000" stroke-width="1.5"/>
<path d="M315.20,174.40L315.61,174.40L316.03,174.40L316.44,174.40L316.85,174.40L317.27,174.40L317.68,174.40L318.09,174.40L318.51,174.40L318.92,174.40L319.33,174.40L319.75,174.40L320.16,174.40L320.57,174.40L320.98,174.40L321.40,174.40L321.81,174.40L322.22,174.40L322.64,174.40L323.05,174.40L323.46,174.40L323.88,174.40L324.29,174.40L324.70,174.40L325.12,174.40L325.53,174.40L325.94,174.40L326.36,174.40L326.77,174.40L327.18,174.40L327.60,174.40L328.01,174.40L328.42,174.40L328.84,174.40L329.25,174.40L329.66,174.40L330.08,174.40L330.49,174.40L330.90,174.40L331.31,174.40L331.73,174.40L332.14,174.40L332.55,174.40L332.97,174.40L333.38,174.40L333.79,174.40L334.21,174.40L334.62,174.40L335.03,174.40L335.45,174.40L335.86,174.40L336.27,174.40L336.69,174.40L337.10,174.40L337.51,174.40L337.93,174.40L338.34,174.40L338.75,174.40L339.17,174.40L339.58,174.40L339.99,174.40L340.41,174.40L340.82,174.40L341.23,174.40L341.64,174.40L342.06,174.40L342.47,174.40L342.88,174.40L343.30,174.40L343.71,174.40L344.12,174.40L344.54,174.40L344.95,174.40L345.36,174.40L345.78,174.40L346.19,174.40L346.60,174.40L347.02,174.40L347.43,174.40L347.84,174.40L348.26,174.40L348.67,174.40L349.08,174.40L349.50,174.40L349.91,174.40L350.32,174.40L350.74,174.40L351.15,174.40L351.56,174.40L351.97,174.40L352.39,174.40L352.80,174.40L353.21,174.40L353.63,174.40L354.04,174.40L354.45,174.40L354.87,174.40L355.28,174.40L355.69,174.39L356.11,174.39L356.52,174.39L356.93,174.39L357.35,174.39L357.76,174.39L358.17,174.39L358.59,174.39L359.00,174.38L359.41,174.38L359.83,174.38L360.24,174.38L360.65,174.37L361.07,174.37L361.48,174.37L361.89,174.36L362.30,174.36L362.72,174.35L363.13,174.35L363.54,174.34L363.96,174.33L364.37,174.33L364.78,174.32L365.20,174.31L365.61,174.30L366.02,174.28L366.44,174.27L366.85,174.25L367.26,174.24L367.68,174.22L368.09,174.20L368.50,174.18L368.92,174.15L369.33,174.12L369.74,174.09L370.16,174.06L370.57,174.02L370.98,173.99L371.40,173.94L371.81,173.89L372.22,173.84L372.63,173.78L373.05,173.72L373.46,173.65L373.87,173.58L374.29,173.50L374.70,173.41L375.11,173.31L375.53,173.21L375.94,173.10L376.35,172.98L376.77,172.84L377.18,172.70L377.59,172.54L378.01,172.38L378.42,172.20L378.83,172.00L379.25,171.79L379.66,171.57L380.07,171.33L380.49,171.07L380.90,170.79L381.31,170.49L381.73,170.17L382.14,169.83L382.55,169.47L382.96,169.08L383.38,168.66L383.79,168.22L384.20,167.75L384.62,167.25L385.03,166.72L385.44,166.16L385.86,165.57L386.27,164.94L386.68,164.27L387.10,163.56L387.51,162.82L387.92,162.04L388.34,161.21L388.75,160.34L389.16,159.43L389.58,158.47L389.99,157.47L390.40,156.42L390.82,155.32L391.23,154.17L391.64,152.96L392.06,151.71L392.47,150.40L392.88,149.05L393.29,147.63L393.71,146.16L394.12,144.64L394.53,143.07L394.95,141.43L395.36,139.75L395.77,138.00L396.19,136.21L396.60,134.36L397.01,132.45L397.43,130.50L397.84,128.49L398.25,126.43L398.67,124.32L399.08,122.17L399.49,119.97L399.91,117.72L400.32,115.44L400.73,113.11L401.15,110.75L401.56,108.35L401.97,105.93L402.39,103.47L402.80,101.00L403.21,98.50L403.62,95.98L404.04,93.45L404.45,90.91L404.86,88.37L405.28,85.82L405.69,83.28L406.10,80.75L406.52,78.22L406.93,75.72L407.34,73.24L407.76,70.79L408.17,68.36L408.58,65.98L409.00,63.64L409.41,61.34L409.82,59.10L410.24,56.91L410.65,54.78L411.06,52.73L411.48,50.74L411.89,48.83L412.30,47.00L412.72,45.25L413.13,43.60L413.54,42.03L413.95,40.57L414.37,39.20L414.78,37.94L415.19,36.78L415.61,35.73L416.02,34.80L416.43,33.98L416.85,33.28L417.26,32.69L417.67,32.23L418.09,31.88L418.50,31.66L418.91,31.56L419.33,31.58L419.74,31.72L420.15,31.99L420.57,32.37L420.98,32.88L421.39,33.50L421.81,34.24L422.22,35.09L422.63,36.06L423.05,37.13L423.46,38.31L423.87,39.60L424.28,40.98L424.70,42.46L425.11,44.04L425.52,45.70L425.94,47.44L426.35,49.27L426.76,51.17L427.18,53.14L427.59,55.17L428.00,57.27L428.42,59.42L428.83,61.62L429.24,63.87L429.66,66.16L430.07,68.48L430.48,70.84L430.90,73.22L431.31,75.62L431.72,78.03L432.14,80.46L432.55,82.89L432.96,85.32L433.38,87.72L433.79,90.11L434.20,92.49L434.61,94.86L435.03,97.20L435.44,99.52L435.85,101.82L436.27,104.08L436.68,106.31L437.09,108.50L437.51,110.66L437.92,112.77L438.33,114.84L438.75,116.86L439.16,118.83L439.57,120.76L439.99,122.63L440.40,124.45L440.81,126.22L441.23,127.94L441.64,129.60L442.05,131.21L442.47,132.76L442.88,134.25L443.29,135.69L443.71,137.08L444.12,138.41L444.53,139.69L444.94,140.91L445.36,142.09L445.77,143.21L446.18,144.28L446.60,145.30L447.01,146.28L447.42,147.21L447.84,148.10L448.25,148.94L448.66,149.75L449.08,150.51L449.49,151.24L449.90,151.92L450.32,152.58L450.73,153.20L451.14,153.78L451.56,154.34L451.97,154.87L452.38,155.37L452.80,155.84L453.21,156.30L453.62,156.73L454.04,157.13L454.45,157.52L454.86,157.90L455.27,158.25L455.69,158.59L456.10,158.92L456.51,159.23L456.93,159.52L457.34,159.81L457.75,160.08L458.17,160.35L458.58,160.60L458.99,160.85L459.41,161.09L459.82,161.32L460.23,161.59L460.65,161.85L461.06,162.10L461.47,162.35L461.89,162.59L462.30,162.83L462.71,163.07L463.13,163.31L463.54,163.54L463.95,163.77L464.37,164.00L464.78,164.23L465.19,164.45L465.60,164.67L466.02,164.89L466.43,165.11L466.84,165.33L467.26,165.55L467.67,165.76L468.08,165.98L468.50,166.21L468.91,166.44L469.32,166.66L469.74,166.89L470.15,167.11L470.56,167.33L470.98,167.55L471.39,167.76L471.80,167.98L472.22,168.19L472.63,168.40L473.04,168.60L473.46,168.81L473.87,169.01L474.28,169.20L474.70,169.40L475.11,169.59L475.52,169.77L475.93,169.96L476.35,170.14L476.76,170.31L477.17,170.48L477.59,170.65L478.00,170.82L478.41,170.98L478.83,171.14L479.24,171.29L479.65,171.44L480.07,171.59L480.48,171.73L480.89,171.85L481.31,171.97L481.72,172.09L482.13,172.20L482.55,172.30L482.96,172.41L483.37,172.51L483.79,172.60L484.20,172.70L484.61,172.79L485.03,172.87L485.44,172.96L485.85,173.04L486.26,173.12L486.68,173.19L487.09,173.26L487.50,173.33L487.92,173.40L488.33,173.46L488.74,173.52L489.16,173.58L489.57,173.63L489.98,173.69L490.40,173.74L490.81,173.79L491.22,173.84L491.64,173.88L492.05,173.92L492.46,173.97L492.88,174.01L493.29,174.05L493.70,174.08L494.12,174.12L494.53,174.15L494.94,174.19L495.36,174.20L495.77,174.22L496.18,174.23L496.59,174.25L497.01,174.26L497.42,174.27L497.83,174.28L498.25,174.29L498.66,174.30L499.07,174.31L499.49,174.32L499.90,174.32L500.31,174.33L500.73,174.34L501.14,174.34L501.55,174.35L501.97,174.35L502.38,174.36L502.79,174.36L503.21,174.36L503.62,174.37L504.03,174.37L504.45,174.37L504.86,174.38L505.27,174.38L505.69,174.38L506.10,174.38L506.51,174.38L506.92,174.39L507.34,174.39L507.75,174.39L508.16,174.39L508.58,174.39L508.99,174.39L509.40,174.39L509.82,174.39L510.23,174.39L510.64,174.39L511.06,174.40L511.47,174.40L511.88,174.40L512.30,174.40L512.71,174.40L513.12,174.40L513.54,174.40L513.95,174.40L514.36,174.40L514.78,174.40L515.19,174.40L515.60,174.40L516.02,174.40L516.43,174.40L516.84,174.40L517.25,174.40L517.67,174.40L518.08,174.40L518.49,174.40L518.91,174.40L519.32,174.40L519.73,174.40L520.15,174.40L520.56,174.40L520.97,174.40L521.39,174.40L521.80,174.40L522.21,174.40L522.63,174.40L523.04,174.40L523.45,174.40L523.87,174.40L524.28,174.40L524.69,174.40L525.11,174.40L525.52,174.40L525.93,174.40L526.35,174.40L526.76,174.40L527.17,174.40L527.58,174.40L528.00,174.40L528.41,174.40L528.82,174.40L529.24,174.40L529.65,174.40L530.06,174.40L530.48,174.40L530.89,174.40L531.30,174.40L531.72,174.40L532.13,174.40L532.54,174.40L532.96,174.40L533.37,174.40L533.78,174.40L534.20,174.40L534.61,174.40L535.02,174.40L535.44,174.40L535.85,174.40L536.26,174.40L536.68,174.40L537.09,174.40L537.50,174.40L537.91,174.40L538.33,174.40L538.74,174.40L539.15,174.40L539.57,174.40L539.98,174.40L540.39,174.40L540.81,174.40L541.22,174.40L541.63,174.40L542.05,174.40L542.46,174.40L542.87,174.40L543.29,174.40L543.70,174.40L544.11,174.40L544.53,174.40" fill="none" stroke="#ff00ff" stroke-width="1.3" stroke-dasharray="5.5 3.5"/>
<text x="307.7" y="176.41" font-size="7.8" text-anchor="end" fill="#2a2a2a" stroke="#2a2a2a" stroke-width="0.1" letter-spacing="0">0</text>
<text x="307.7" y="142.76" font-size="7.8" text-anchor="end" fill="#2a2a2a" stroke="#2a2a2a" stroke-width="0.1" letter-spacing="0">5000</text>
<text x="307.7" y="109.11" font-size="7.8" text-anchor="end" fill="#2a2a2a" stroke="#2a2a2a" stroke-width="0.1" letter-spacing="0">10000</text>
<text x="307.7" y="75.46" font-size="7.8" text-anchor="end" fill="#2a2a2a" stroke="#2a2a2a" stroke-width="0.1" letter-spacing="0">15000</text>
<text x="307.7" y="41.81" font-size="7.8" text-anchor="end" fill="#2a2a2a" stroke="#2a2a2a" stroke-width="0.1" letter-spacing="0">20000</text>
<text x="307.7" y="8.16" font-size="7.8" text-anchor="end" fill="#2a2a2a" stroke="#2a2a2a" stroke-width="0.1" letter-spacing="0">25000</text>
<text x="314.80" y="187" font-size="7.7" text-anchor="middle" fill="#2a2a2a" stroke="#2a2a2a" stroke-width="0.1" letter-spacing="0.2">538</text>
<text x="356.12" y="187" font-size="7.7" text-anchor="middle" fill="#2a2a2a" stroke="#2a2a2a" stroke-width="0.1" letter-spacing="0.2">536</text>
<text x="397.44" y="187" font-size="7.7" text-anchor="middle" fill="#2a2a2a" stroke="#2a2a2a" stroke-width="0.1" letter-spacing="0.2">534</text>
<text x="438.76" y="187" font-size="7.7" text-anchor="middle" fill="#2a2a2a" stroke="#2a2a2a" stroke-width="0.1" letter-spacing="0.2">532</text>
<text x="480.08" y="187" font-size="7.7" text-anchor="middle" fill="#2a2a2a" stroke="#2a2a2a" stroke-width="0.1" letter-spacing="0.2">530</text>
<text x="521.40" y="187" font-size="7.7" text-anchor="middle" fill="#2a2a2a" stroke="#2a2a2a" stroke-width="0.1" letter-spacing="0.2">528</text>
<text x="429.00" y="201.1" font-size="7" text-anchor="middle" fill="#2a2a2a" stroke="#2a2a2a" stroke-width="0.06" letter-spacing="1.05">BE (eV)</text>
<text transform="translate(278.3,89.2) rotate(-90) scale(1,0.8)" font-size="9.0" text-anchor="middle" fill="#2a2a2a" stroke="#2a2a2a" stroke-width="0.25">Intensity (count/s)</text>
<text x="337.3" y="25.8" font-size="17.7" fill="#000">b)</text>
<text x="317.7" y="47.1" font-size="17.7" fill="#000">CUR</text>
<path d="M474.20,21.10h3l-1.5,2.6z" fill="#111"/>
<text x="487" y="24.50" font-size="7" fill="#2a2a2a" stroke="#2a2a2a" stroke-width="0.14" letter-spacing="1.1">Experiment</text>
<path d="M466,33.00h19.3" stroke="#0000ff" stroke-width="1.6"/>
<text x="487" y="35.20" font-size="7" fill="#2a2a2a" stroke="#2a2a2a" stroke-width="0.14" letter-spacing="1.1">C-O</text>
<path d="M466,43.70h19.3" stroke="#008000" stroke-width="1.6"/>
<text x="487" y="45.90" font-size="7" fill="#2a2a2a" stroke="#2a2a2a" stroke-width="0.14" letter-spacing="1.1">C=O</text>
<path d="M466.5,54.40h19" stroke="#ff00ff" stroke-width="2" stroke-dasharray="7 3.5"/>
<text x="487" y="56.60" font-size="7" fill="#2a2a2a" stroke="#2a2a2a" stroke-width="0.14" letter-spacing="1.1">Envelope</text>
<text x="323.3" y="73.9"  font-size="6.8" fill="#222" stroke="#222" stroke-width="0.2" letter-spacing="0.7">[C-O] = 93%</text>
<text x="323.3" y="83.2"  font-size="6.8" fill="#222" stroke="#222" stroke-width="0.2" letter-spacing="0.7">[C=O] = 7%</text>
<path d="M149.4,372.6V208.8H370.9V372.6H149.4" fill="none" stroke="#5e5e5e" stroke-width="1.2"/>
<path d="M171.55,208.8v2M370.9,225.18h-2M193.70,208.8v2.6M370.9,241.56h-2.6M215.85,208.8v2M370.9,257.94h-2M238.00,208.8v2.6M370.9,274.32h-2.6M260.15,208.8v2M370.9,290.70h-2M282.30,208.8v2.6M370.9,307.08h-2.6M304.45,208.8v2M370.9,323.46h-2M326.60,208.8v2.6M370.9,339.84h-2.6M348.75,208.8v2M370.9,356.22h-2M149.40,372.6v3M169.52,372.6v2.2M189.64,372.6v3M209.76,372.6v2.2M229.88,372.6v3M250.00,372.6v2.2M270.12,372.6v3M290.24,372.6v2.2M310.36,372.6v3M330.48,372.6v2.2M350.60,372.6v3M149.4,347.40h-3M149.4,315.90h-3M149.4,284.40h-3M149.4,252.90h-3M149.4,221.40h-3M149.4,363.15h-2M149.4,331.65h-2M149.4,300.15h-2M149.4,268.65h-2M149.4,237.15h-2" fill="none" stroke="#5e5e5e" stroke-width="1"/>
<path d="M147.60,362.98h3.6l-1.8,3.0zM149.61,364.28h3.6l-1.8,3.0zM151.62,363.75h3.6l-1.8,3.0zM153.64,363.72h3.6l-1.8,3.0zM155.65,363.67h3.6l-1.8,3.0zM157.66,363.68h3.6l-1.8,3.0zM159.67,363.83h3.6l-1.8,3.0zM161.68,363.84h3.6l-1.8,3.0zM163.70,364.58h3.6l-1.8,3.0zM165.71,363.99h3.6l-1.8,3.0zM167.72,364.25h3.6l-1.8,3.0zM169.73,363.86h3.6l-1.8,3.0zM171.74,364.12h3.6l-1.8,3.0zM173.76,363.65h3.6l-1.8,3.0zM175.77,363.56h3.6l-1.8,3.0zM177.78,363.78h3.6l-1.8,3.0zM179.79,363.78h3.6l-1.8,3.0zM181.80,363.88h3.6l-1.8,3.0zM183.82,364.12h3.6l-1.8,3.0zM185.83,363.86h3.6l-1.8,3.0zM187.84,363.88h3.6l-1.8,3.0zM189.85,363.37h3.6l-1.8,3.0zM191.86,363.40h3.6l-1.8,3.0zM193.88,363.03h3.6l-1.8,3.0zM195.89,363.58h3.6l-1.8,3.0zM197.90,362.31h3.6l-1.8,3.0zM199.91,362.74h3.6l-1.8,3.0zM201.92,362.41h3.6l-1.8,3.0zM203.94,361.85h3.6l-1.8,3.0zM205.95,361.67h3.6l-1.8,3.0zM207.96,360.88h3.6l-1.8,3.0zM209.97,360.74h3.6l-1.8,3.0zM211.98,360.26h3.6l-1.8,3.0zM214.00,359.49h3.6l-1.8,3.0zM216.01,357.79h3.6l-1.8,3.0zM218.02,357.11h3.6l-1.8,3.0zM220.03,355.78h3.6l-1.8,3.0zM222.04,352.59h3.6l-1.8,3.0zM224.06,349.77h3.6l-1.8,3.0zM226.07,343.59h3.6l-1.8,3.0zM228.08,339.00h3.6l-1.8,3.0zM230.09,330.61h3.6l-1.8,3.0zM232.10,321.10h3.6l-1.8,3.0zM234.12,311.09h3.6l-1.8,3.0zM236.13,298.22h3.6l-1.8,3.0zM238.14,284.98h3.6l-1.8,3.0zM240.15,271.93h3.6l-1.8,3.0zM242.16,259.00h3.6l-1.8,3.0zM244.18,246.61h3.6l-1.8,3.0zM246.19,236.51h3.6l-1.8,3.0zM248.20,228.27h3.6l-1.8,3.0zM250.21,223.11h3.6l-1.8,3.0zM252.22,220.54h3.6l-1.8,3.0zM254.24,222.26h3.6l-1.8,3.0zM256.25,225.66h3.6l-1.8,3.0zM258.26,233.18h3.6l-1.8,3.0zM260.27,242.66h3.6l-1.8,3.0zM262.28,252.84h3.6l-1.8,3.0zM264.30,263.96h3.6l-1.8,3.0zM266.31,276.17h3.6l-1.8,3.0zM268.32,288.26h3.6l-1.8,3.0zM270.33,298.22h3.6l-1.8,3.0zM272.34,307.93h3.6l-1.8,3.0zM274.36,315.53h3.6l-1.8,3.0zM276.37,321.68h3.6l-1.8,3.0zM278.38,327.60h3.6l-1.8,3.0zM280.39,330.16h3.6l-1.8,3.0zM282.40,333.44h3.6l-1.8,3.0zM284.42,335.37h3.6l-1.8,3.0zM286.43,337.39h3.6l-1.8,3.0zM288.44,338.91h3.6l-1.8,3.0zM290.45,340.08h3.6l-1.8,3.0zM292.46,340.73h3.6l-1.8,3.0zM294.48,341.88h3.6l-1.8,3.0zM296.49,344.25h3.6l-1.8,3.0zM298.50,345.50h3.6l-1.8,3.0zM300.51,347.93h3.6l-1.8,3.0zM302.52,350.52h3.6l-1.8,3.0zM304.54,351.48h3.6l-1.8,3.0zM306.55,353.15h3.6l-1.8,3.0zM308.56,355.24h3.6l-1.8,3.0zM310.57,356.48h3.6l-1.8,3.0zM312.58,357.77h3.6l-1.8,3.0zM314.60,359.63h3.6l-1.8,3.0zM316.61,360.95h3.6l-1.8,3.0zM318.62,361.28h3.6l-1.8,3.0zM320.63,361.99h3.6l-1.8,3.0zM322.64,362.63h3.6l-1.8,3.0zM324.66,362.49h3.6l-1.8,3.0zM326.67,362.52h3.6l-1.8,3.0zM328.68,363.72h3.6l-1.8,3.0zM330.69,363.42h3.6l-1.8,3.0zM332.70,363.45h3.6l-1.8,3.0zM334.72,363.65h3.6l-1.8,3.0zM336.73,363.57h3.6l-1.8,3.0zM338.74,364.26h3.6l-1.8,3.0zM340.75,363.79h3.6l-1.8,3.0zM342.76,363.24h3.6l-1.8,3.0zM344.78,363.79h3.6l-1.8,3.0zM346.79,364.43h3.6l-1.8,3.0zM348.80,363.89h3.6l-1.8,3.0zM350.81,363.61h3.6l-1.8,3.0zM352.82,364.00h3.6l-1.8,3.0zM354.84,364.42h3.6l-1.8,3.0zM356.85,363.49h3.6l-1.8,3.0zM358.86,364.72h3.6l-1.8,3.0zM360.87,363.95h3.6l-1.8,3.0zM362.88,364.18h3.6l-1.8,3.0zM364.90,364.70h3.6l-1.8,3.0zM366.91,363.63h3.6l-1.8,3.0zM368.92,364.02h3.6l-1.8,3.0z" fill="#111"/>
<path d="M149.40,365.67L149.80,365.67L150.20,365.67L150.61,365.67L151.01,365.67L151.41,365.67L151.81,365.67L152.22,365.67L152.62,365.67L153.02,365.67L153.42,365.67L153.83,365.67L154.23,365.67L154.63,365.67L155.03,365.67L155.44,365.67L155.84,365.67L156.24,365.67L156.64,365.67L157.05,365.67L157.45,365.67L157.85,365.67L158.25,365.67L158.66,365.67L159.06,365.67L159.46,365.67L159.86,365.67L160.26,365.67L160.67,365.67L161.07,365.67L161.47,365.67L161.87,365.67L162.28,365.67L162.68,365.67L163.08,365.67L163.48,365.67L163.89,365.67L164.29,365.67L164.69,365.67L165.09,365.67L165.50,365.67L165.90,365.67L166.30,365.67L166.70,365.67L167.11,365.67L167.51,365.67L167.91,365.67L168.31,365.67L168.72,365.67L169.12,365.67L169.52,365.67L169.92,365.67L170.32,365.67L170.73,365.67L171.13,365.67L171.53,365.67L171.93,365.67L172.34,365.67L172.74,365.67L173.14,365.67L173.54,365.67L173.95,365.67L174.35,365.67L174.75,365.67L175.15,365.67L175.56,365.67L175.96,365.67L176.36,365.67L176.76,365.67L177.17,365.67L177.57,365.67L177.97,365.67L178.37,365.67L178.78,365.67L179.18,365.67L179.58,365.67L179.98,365.67L180.38,365.67L180.79,365.67L181.19,365.67L181.59,365.67L181.99,365.67L182.40,365.67L182.80,365.67L183.20,365.67L183.60,365.67L184.01,365.67L184.41,365.67L184.81,365.67L185.21,365.67L185.62,365.67L186.02,365.67L186.42,365.67L186.82,365.67L187.23,365.67L187.63,365.67L188.03,365.67L188.43,365.67L188.84,365.67L189.24,365.67L189.64,365.67L190.04,365.67L190.44,365.67L190.85,365.67L191.25,365.67L191.65,365.67L192.05,365.67L192.46,365.67L192.86,365.67L193.26,365.67L193.66,365.67L194.07,365.67L194.47,365.67L194.87,365.67L195.27,365.66L195.68,365.66L196.08,365.66L196.48,365.66L196.88,365.66L197.29,365.66L197.69,365.66L198.09,365.66L198.49,365.65L198.90,365.65L199.30,365.65L199.70,365.65L200.10,365.64L200.50,365.64L200.91,365.63L201.31,365.63L201.71,365.62L202.11,365.62L202.52,365.61L202.92,365.60L203.32,365.60L203.72,365.59L204.13,365.58L204.53,365.56L204.93,365.55L205.33,365.54L205.74,365.52L206.14,365.50L206.54,365.48L206.94,365.46L207.35,365.43L207.75,365.41L208.15,365.38L208.55,365.34L208.96,365.31L209.36,365.27L209.76,365.22L210.16,365.17L210.56,365.12L210.97,365.06L211.37,364.99L211.77,364.92L212.17,364.85L212.58,364.76L212.98,364.67L213.38,364.57L213.78,364.46L214.19,364.34L214.59,364.20L214.99,364.06L215.39,363.91L215.80,363.74L216.20,363.56L216.60,363.37L217.00,363.15L217.41,362.93L217.81,362.68L218.21,362.41L218.61,362.13L219.02,361.82L219.42,361.49L219.82,361.14L220.22,360.76L220.62,360.36L221.03,359.92L221.43,359.46L221.83,358.97L222.23,358.44L222.64,357.88L223.04,357.29L223.44,356.65L223.84,355.98L224.25,355.27L224.65,354.52L225.05,353.73L225.45,352.89L225.86,352.00L226.26,351.07L226.66,350.08L227.06,349.05L227.47,347.97L227.87,346.83L228.27,345.64L228.67,344.39L229.08,343.09L229.48,341.72L229.88,340.31L230.28,338.83L230.68,337.29L231.09,335.69L231.49,334.04L231.89,332.32L232.29,330.54L232.70,328.71L233.10,326.81L233.50,324.85L233.90,322.84L234.31,320.77L234.71,318.65L235.11,316.47L235.51,314.24L235.92,311.95L236.32,309.62L236.72,307.25L237.12,304.83L237.53,302.37L237.93,299.87L238.33,297.34L238.73,294.77L239.14,292.19L239.54,289.57L239.94,286.94L240.34,284.30L240.74,281.65L241.15,278.99L241.55,276.33L241.95,273.68L242.35,271.04L242.76,268.41L243.16,265.80L243.56,263.23L243.96,260.68L244.37,258.18L244.77,255.71L245.17,253.30L245.57,250.94L245.98,248.65L246.38,246.42L246.78,244.26L247.18,242.18L247.59,240.18L247.99,238.27L248.39,236.45L248.79,234.73L249.20,233.12L249.60,231.61L250.00,230.21L250.40,228.92L250.80,227.76L251.21,226.71L251.61,225.79L252.01,225.00L252.41,224.33L252.82,223.80L253.22,223.40L253.62,223.13L254.02,222.99L254.43,222.99L254.83,223.13L255.23,223.40L255.63,223.80L256.04,224.33L256.44,225.00L256.84,225.79L257.24,226.71L257.65,227.76L258.05,228.92L258.45,230.21L258.85,231.61L259.26,233.12L259.66,234.73L260.06,236.45L260.46,238.27L260.86,240.18L261.27,242.18L261.67,244.26L262.07,246.42L262.47,248.65L262.88,250.94L263.28,253.30L263.68,255.71L264.08,258.18L264.49,260.68L264.89,263.23L265.29,265.80L265.69,268.41L266.10,271.04L266.50,273.68L266.90,276.33L267.30,278.99L267.71,281.65L268.11,284.30L268.51,286.94L268.91,289.57L269.32,292.19L269.72,294.77L270.12,297.34L270.52,299.87L270.92,302.37L271.33,304.83L271.73,307.25L272.13,309.62L272.53,311.95L272.94,314.24L273.34,316.47L273.74,318.65L274.14,320.77L274.55,322.84L274.95,324.85L275.35,326.81L275.75,328.71L276.16,330.54L276.56,332.32L276.96,334.04L277.36,335.69L277.77,337.29L278.17,338.83L278.57,340.31L278.97,341.72L279.38,343.09L279.78,344.39L280.18,345.64L280.58,346.83L280.98,347.97L281.39,349.05L281.79,350.08L282.19,351.07L282.59,352.00L283.00,352.89L283.40,353.73L283.80,354.52L284.20,355.27L284.61,355.98L285.01,356.65L285.41,357.29L285.81,357.88L286.22,358.44L286.62,358.97L287.02,359.46L287.42,359.92L287.83,360.36L288.23,360.76L288.63,361.14L289.03,361.49L289.44,361.82L289.84,362.13L290.24,362.41L290.64,362.68L291.04,362.93L291.45,363.15L291.85,363.37L292.25,363.56L292.65,363.74L293.06,363.91L293.46,364.06L293.86,364.20L294.26,364.34L294.67,364.46L295.07,364.57L295.47,364.67L295.87,364.76L296.28,364.85L296.68,364.92L297.08,364.99L297.48,365.06L297.89,365.12L298.29,365.17L298.69,365.22L299.09,365.27L299.50,365.31L299.90,365.34L300.30,365.38L300.70,365.41L301.10,365.43L301.51,365.46L301.91,365.48L302.31,365.50L302.71,365.52L303.12,365.54L303.52,365.55L303.92,365.56L304.32,365.58L304.73,365.59L305.13,365.60L305.53,365.60L305.93,365.61L306.34,365.62L306.74,365.62L307.14,365.63L307.54,365.63L307.95,365.64L308.35,365.64L308.75,365.65L309.15,365.65L309.56,365.65L309.96,365.65L310.36,365.66L310.76,365.66L311.16,365.66L311.57,365.66L311.97,365.66L312.37,365.66L312.77,365.66L313.18,365.66L313.58,365.67L313.98,365.67L314.38,365.67L314.79,365.67L315.19,365.67L315.59,365.67L315.99,365.67L316.40,365.67L316.80,365.67L317.20,365.67L317.60,365.67L318.01,365.67L318.41,365.67L318.81,365.67L319.21,365.67L319.62,365.67L320.02,365.67L320.42,365.67L320.82,365.67L321.22,365.67L321.63,365.67L322.03,365.67L322.43,365.67L322.83,365.67L323.24,365.67L323.64,365.67L324.04,365.67L324.44,365.67L324.85,365.67L325.25,365.67L325.65,365.67L326.05,365.67L326.46,365.67L326.86,365.67L327.26,365.67L327.66,365.67L328.07,365.67L328.47,365.67L328.87,365.67L329.27,365.67L329.68,365.67L330.08,365.67L330.48,365.67L330.88,365.67L331.28,365.67L331.69,365.67L332.09,365.67L332.49,365.67L332.89,365.67L333.30,365.67L333.70,365.67L334.10,365.67L334.50,365.67L334.91,365.67L335.31,365.67L335.71,365.67L336.11,365.67L336.52,365.67L336.92,365.67L337.32,365.67L337.72,365.67L338.13,365.67L338.53,365.67L338.93,365.67L339.33,365.67L339.74,365.67L340.14,365.67L340.54,365.67L340.94,365.67L341.34,365.67L341.75,365.67L342.15,365.67L342.55,365.67L342.95,365.67L343.36,365.67L343.76,365.67L344.16,365.67L344.56,365.67L344.97,365.67L345.37,365.67L345.77,365.67L346.17,365.67L346.58,365.67L346.98,365.67L347.38,365.67L347.78,365.67L348.19,365.67L348.59,365.67L348.99,365.67L349.39,365.67L349.80,365.67L350.20,365.67L350.60,365.67L351.00,365.67L351.40,365.67L351.81,365.67L352.21,365.67L352.61,365.67L353.01,365.67L353.42,365.67L353.82,365.67L354.22,365.67L354.62,365.67L355.03,365.67L355.43,365.67L355.83,365.67L356.23,365.67L356.64,365.67L357.04,365.67L357.44,365.67L357.84,365.67L358.25,365.67L358.65,365.67L359.05,365.67L359.45,365.67L359.86,365.67L360.26,365.67L360.66,365.67L361.06,365.67L361.46,365.67L361.87,365.67L362.27,365.67L362.67,365.67L363.07,365.67L363.48,365.67L363.88,365.67L364.28,365.67L364.68,365.67L365.09,365.67L365.49,365.67L365.89,365.67L366.29,365.67L366.70,365.67L367.10,365.67L367.50,365.67L367.90,365.67L368.31,365.67L368.71,365.67L369.11,365.67L369.51,365.67L369.92,365.67L370.32,365.67L370.72,365.67L371.12,365.67L371.52,365.67L371.93,365.67L372.33,365.67L372.73,365.67" fill="none" stroke="#0000ff" stroke-width="1.5"/>
<path d="M149.40,365.67L149.80,365.67L150.20,365.67L150.61,365.67L151.01,365.67L151.41,365.67L151.81,365.67L152.22,365.67L152.62,365.67L153.02,365.67L153.42,365.67L153.83,365.67L154.23,365.67L154.63,365.67L155.03,365.67L155.44,365.67L155.84,365.67L156.24,365.67L156.64,365.67L157.05,365.67L157.45,365.67L157.85,365.67L158.25,365.67L158.66,365.67L159.06,365.67L159.46,365.67L159.86,365.67L160.26,365.67L160.67,365.67L161.07,365.67L161.47,365.67L161.87,365.67L162.28,365.67L162.68,365.67L163.08,365.67L163.48,365.67L163.89,365.67L164.29,365.67L164.69,365.67L165.09,365.67L165.50,365.67L165.90,365.67L166.30,365.67L166.70,365.67L167.11,365.67L167.51,365.67L167.91,365.67L168.31,365.67L168.72,365.67L169.12,365.67L169.52,365.67L169.92,365.67L170.32,365.67L170.73,365.67L171.13,365.67L171.53,365.67L171.93,365.67L172.34,365.67L172.74,365.67L173.14,365.67L173.54,365.67L173.95,365.67L174.35,365.67L174.75,365.67L175.15,365.67L175.56,365.67L175.96,365.67L176.36,365.67L176.76,365.67L177.17,365.67L177.57,365.67L177.97,365.67L178.37,365.67L178.78,365.67L179.18,365.67L179.58,365.67L179.98,365.67L180.38,365.67L180.79,365.67L181.19,365.67L181.59,365.67L181.99,365.67L182.40,365.67L182.80,365.67L183.20,365.67L183.60,365.67L184.01,365.67L184.41,365.67L184.81,365.67L185.21,365.67L185.62,365.67L186.02,365.67L186.42,365.67L186.82,365.67L187.23,365.67L187.63,365.67L188.03,365.67L188.43,365.67L188.84,365.67L189.24,365.67L189.64,365.67L190.04,365.67L190.44,365.67L190.85,365.67L191.25,365.67L191.65,365.67L192.05,365.67L192.46,365.67L192.86,365.67L193.26,365.67L193.66,365.67L194.07,365.67L194.47,365.67L194.87,365.67L195.27,365.67L195.68,365.67L196.08,365.67L196.48,365.67L196.88,365.67L197.29,365.67L197.69,365.67L198.09,365.67L198.49,365.67L198.90,365.67L199.30,365.67L199.70,365.67L200.10,365.67L200.50,365.67L200.91,365.67L201.31,365.67L201.71,365.67L202.11,365.67L202.52,365.67L202.92,365.67L203.32,365.67L203.72,365.67L204.13,365.67L204.53,365.67L204.93,365.67L205.33,365.67L205.74,365.67L206.14,365.67L206.54,365.67L206.94,365.67L207.35,365.67L207.75,365.67L208.15,365.67L208.55,365.67L208.96,365.67L209.36,365.67L209.76,365.67L210.16,365.67L210.56,365.67L210.97,365.67L211.37,365.67L211.77,365.67L212.17,365.67L212.58,365.67L212.98,365.67L213.38,365.67L213.78,365.67L214.19,365.67L214.59,365.67L214.99,365.67L215.39,365.67L215.80,365.67L216.20,365.67L216.60,365.67L217.00,365.67L217.41,365.67L217.81,365.67L218.21,365.67L218.61,365.67L219.02,365.67L219.42,365.67L219.82,365.67L220.22,365.67L220.62,365.67L221.03,365.67L221.43,365.67L221.83,365.67L222.23,365.67L222.64,365.67L223.04,365.67L223.44,365.67L223.84,365.67L224.25,365.67L224.65,365.67L225.05,365.67L225.45,365.67L225.86,365.67L226.26,365.67L226.66,365.67L227.06,365.67L227.47,365.67L227.87,365.67L228.27,365.67L228.67,365.67L229.08,365.67L229.48,365.67L229.88,365.67L230.28,365.67L230.68,365.67L231.09,365.67L231.49,365.67L231.89,365.67L232.29,365.67L232.70,365.67L233.10,365.67L233.50,365.67L233.90,365.67L234.31,365.67L234.71,365.66L235.11,365.66L235.51,365.66L235.92,365.66L236.32,365.66L236.72,365.66L237.12,365.66L237.53,365.66L237.93,365.66L238.33,365.65L238.73,365.65L239.14,365.65L239.54,365.65L239.94,365.65L240.34,365.64L240.74,365.64L241.15,365.64L241.55,365.63L241.95,365.63L242.35,365.62L242.76,365.62L243.16,365.61L243.56,365.61L243.96,365.60L244.37,365.59L244.77,365.58L245.17,365.57L245.57,365.56L245.98,365.55L246.38,365.54L246.78,365.53L247.18,365.52L247.59,365.50L247.99,365.48L248.39,365.47L248.79,365.45L249.20,365.43L249.60,365.40L250.00,365.38L250.40,365.35L250.80,365.32L251.21,365.29L251.61,365.26L252.01,365.22L252.41,365.18L252.82,365.14L253.22,365.10L253.62,365.05L254.02,365.00L254.43,364.94L254.83,364.88L255.23,364.82L255.63,364.75L256.04,364.68L256.44,364.61L256.84,364.53L257.24,364.44L257.65,364.35L258.05,364.25L258.45,364.15L258.85,364.04L259.26,363.93L259.66,363.81L260.06,363.68L260.46,363.54L260.86,363.40L261.27,363.25L261.67,363.10L262.07,362.93L262.47,362.76L262.88,362.58L263.28,362.39L263.68,362.20L264.08,361.99L264.49,361.78L264.89,361.56L265.29,361.33L265.69,361.09L266.10,360.84L266.50,360.58L266.90,360.31L267.30,360.04L267.71,359.75L268.11,359.46L268.51,359.16L268.91,358.85L269.32,358.53L269.72,358.20L270.12,357.86L270.52,357.52L270.92,357.17L271.33,356.81L271.73,356.44L272.13,356.07L272.53,355.69L272.94,355.31L273.34,354.92L273.74,354.53L274.14,354.13L274.55,353.73L274.95,353.32L275.35,352.92L275.75,352.51L276.16,352.10L276.56,351.69L276.96,351.28L277.36,350.87L277.77,350.46L278.17,350.06L278.57,349.66L278.97,349.26L279.38,348.87L279.78,348.49L280.18,348.11L280.58,347.74L280.98,347.38L281.39,347.02L281.79,346.68L282.19,346.35L282.59,346.03L283.00,345.72L283.40,345.43L283.80,345.15L284.20,344.88L284.61,344.63L285.01,344.40L285.41,344.18L285.81,343.98L286.22,343.79L286.62,343.63L287.02,343.48L287.42,343.35L287.83,343.24L288.23,343.15L288.63,343.08L289.03,343.03L289.44,343.00L289.84,342.99L290.24,343.00L290.64,343.02L291.04,343.06L291.45,343.12L291.85,343.19L292.25,343.27L292.65,343.38L293.06,343.49L293.46,343.63L293.86,343.77L294.26,343.93L294.67,344.11L295.07,344.30L295.47,344.50L295.87,344.71L296.28,344.94L296.68,345.18L297.08,345.43L297.48,345.69L297.89,345.96L298.29,346.24L298.69,346.53L299.09,346.83L299.50,347.14L299.90,347.46L300.30,347.78L300.70,348.11L301.10,348.44L301.51,348.79L301.91,349.13L302.31,349.48L302.71,349.84L303.12,350.19L303.52,350.55L303.92,350.91L304.32,351.28L304.73,351.64L305.13,352.00L305.53,352.37L305.93,352.73L306.34,353.10L306.74,353.46L307.14,353.82L307.54,354.17L307.95,354.53L308.35,354.88L308.75,355.22L309.15,355.56L309.56,355.90L309.96,356.24L310.36,356.56L310.76,356.89L311.16,357.21L311.57,357.52L311.97,357.82L312.37,358.12L312.77,358.42L313.18,358.70L313.58,358.98L313.98,359.26L314.38,359.52L314.79,359.78L315.19,360.04L315.59,360.28L315.99,360.52L316.40,360.75L316.80,360.98L317.20,361.19L317.60,361.40L318.01,361.61L318.41,361.80L318.81,361.99L319.21,362.17L319.62,362.35L320.02,362.52L320.42,362.68L320.82,362.84L321.22,362.99L321.63,363.13L322.03,363.27L322.43,363.40L322.83,363.53L323.24,363.65L323.64,363.76L324.04,363.87L324.44,363.98L324.85,364.08L325.25,364.17L325.65,364.26L326.05,364.35L326.46,364.43L326.86,364.51L327.26,364.58L327.66,364.65L328.07,364.71L328.47,364.78L328.87,364.83L329.27,364.89L329.68,364.94L330.08,364.99L330.48,365.04L330.88,365.08L331.28,365.12L331.69,365.16L332.09,365.20L332.49,365.23L332.89,365.26L333.30,365.29L333.70,365.32L334.10,365.35L334.50,365.37L334.91,365.39L335.31,365.41L335.71,365.43L336.11,365.45L336.52,365.47L336.92,365.48L337.32,365.50L337.72,365.51L338.13,365.52L338.53,365.54L338.93,365.55L339.33,365.56L339.74,365.57L340.14,365.58L340.54,365.58L340.94,365.59L341.34,365.60L341.75,365.60L342.15,365.61L342.55,365.61L342.95,365.62L343.36,365.62L343.76,365.63L344.16,365.63L344.56,365.64L344.97,365.64L345.37,365.64L345.77,365.64L346.17,365.65L346.58,365.65L346.98,365.65L347.38,365.65L347.78,365.65L348.19,365.66L348.59,365.66L348.99,365.66L349.39,365.66L349.80,365.66L350.20,365.66L350.60,365.66L351.00,365.66L351.40,365.66L351.81,365.66L352.21,365.67L352.61,365.67L353.01,365.67L353.42,365.67L353.82,365.67L354.22,365.67L354.62,365.67L355.03,365.67L355.43,365.67L355.83,365.67L356.23,365.67L356.64,365.67L357.04,365.67L357.44,365.67L357.84,365.67L358.25,365.67L358.65,365.67L359.05,365.67L359.45,365.67L359.86,365.67L360.26,365.67L360.66,365.67L361.06,365.67L361.46,365.67L361.87,365.67L362.27,365.67L362.67,365.67L363.07,365.67L363.48,365.67L363.88,365.67L364.28,365.67L364.68,365.67L365.09,365.67L365.49,365.67L365.89,365.67L366.29,365.67L366.70,365.67L367.10,365.67L367.50,365.67L367.90,365.67L368.31,365.67L368.71,365.67L369.11,365.67L369.51,365.67L369.92,365.67L370.32,365.67L370.72,365.67L371.12,365.67L371.52,365.67L371.93,365.67L372.33,365.67L372.73,365.67" fill="none" stroke="#008000" stroke-width="1.5"/>
<path d="M149.40,365.67L149.80,365.67L150.20,365.67L150.61,365.67L151.01,365.67L151.41,365.67L151.81,365.67L152.22,365.67L152.62,365.67L153.02,365.67L153.42,365.67L153.83,365.67L154.23,365.67L154.63,365.67L155.03,365.67L155.44,365.67L155.84,365.67L156.24,365.67L156.64,365.67L157.05,365.67L157.45,365.67L157.85,365.67L158.25,365.67L158.66,365.67L159.06,365.67L159.46,365.67L159.86,365.67L160.26,365.67L160.67,365.67L161.07,365.67L161.47,365.67L161.87,365.67L162.28,365.67L162.68,365.67L163.08,365.67L163.48,365.67L163.89,365.67L164.29,365.67L164.69,365.67L165.09,365.67L165.50,365.67L165.90,365.67L166.30,365.67L166.70,365.67L167.11,365.67L167.51,365.67L167.91,365.67L168.31,365.67L168.72,365.67L169.12,365.67L169.52,365.67L169.92,365.67L170.32,365.67L170.73,365.67L171.13,365.67L171.53,365.67L171.93,365.67L172.34,365.67L172.74,365.67L173.14,365.67L173.54,365.67L173.95,365.67L174.35,365.67L174.75,365.67L175.15,365.67L175.56,365.67L175.96,365.67L176.36,365.67L176.76,365.67L177.17,365.67L177.57,365.67L177.97,365.67L178.37,365.67L178.78,365.67L179.18,365.67L179.58,365.67L179.98,365.67L180.38,365.67L180.79,365.67L181.19,365.67L181.59,365.67L181.99,365.67L182.40,365.67L182.80,365.67L183.20,365.67L183.60,365.67L184.01,365.67L184.41,365.67L184.81,365.67L185.21,365.67L185.62,365.67L186.02,365.67L186.42,365.67L186.82,365.67L187.23,365.67L187.63,365.67L188.03,365.67L188.43,365.67L188.84,365.67L189.24,365.67L189.64,365.67L190.04,365.67L190.44,365.67L190.85,365.67L191.25,365.67L191.65,365.67L192.05,365.67L192.46,365.67L192.86,365.67L193.26,365.67L193.66,365.67L194.07,365.67L194.47,365.67L194.87,365.67L195.27,365.66L195.68,365.66L196.08,365.66L196.48,365.66L196.88,365.66L197.29,365.66L197.69,365.66L198.09,365.66L198.49,365.65L198.90,365.65L199.30,365.65L199.70,365.65L200.10,365.64L200.50,365.64L200.91,365.63L201.31,365.63L201.71,365.62L202.11,365.62L202.52,365.61L202.92,365.60L203.32,365.60L203.72,365.59L204.13,365.58L204.53,365.56L204.93,365.55L205.33,365.54L205.74,365.52L206.14,365.50L206.54,365.48L206.94,365.46L207.35,365.43L207.75,365.41L208.15,365.38L208.55,365.34L208.96,365.31L209.36,365.27L209.76,365.22L210.16,365.17L210.56,365.12L210.97,365.06L211.37,364.99L211.77,364.92L212.17,364.85L212.58,364.76L212.98,364.67L213.38,364.57L213.78,364.46L214.19,364.34L214.59,364.20L214.99,364.06L215.39,363.91L215.80,363.74L216.20,363.56L216.60,363.37L217.00,363.15L217.41,362.93L217.81,362.68L218.21,362.41L218.61,362.13L219.02,361.82L219.42,361.49L219.82,361.14L220.22,360.76L220.62,360.36L221.03,359.92L221.43,359.46L221.83,358.97L222.23,358.44L222.64,357.88L223.04,357.29L223.44,356.65L223.84,355.98L224.25,355.27L224.65,354.52L225.05,353.73L225.45,352.89L225.86,352.00L226.26,351.07L226.66,350.08L227.06,349.05L227.47,347.97L227.87,346.83L228.27,345.64L228.67,344.39L229.08,343.08L229.48,341.72L229.88,340.30L230.28,338.83L230.68,337.29L231.09,335.69L231.49,334.03L231.89,332.32L232.29,330.54L232.70,328.70L233.10,326.81L233.50,324.85L233.90,322.84L234.31,320.77L234.71,318.64L235.11,316.46L235.51,314.23L235.92,311.95L236.32,309.61L236.72,307.24L237.12,304.82L237.53,302.35L237.93,299.85L238.33,297.32L238.73,294.76L239.14,292.17L239.54,289.55L239.94,286.92L240.34,284.27L240.74,281.62L241.15,278.95L241.55,276.29L241.95,273.64L242.35,270.99L242.76,268.36L243.16,265.75L243.56,263.16L243.96,260.61L244.37,258.10L244.77,255.63L245.17,253.20L245.57,250.84L245.98,248.53L246.38,246.29L246.78,244.12L247.18,242.02L247.59,240.01L247.99,238.08L248.39,236.25L248.79,234.51L249.20,232.87L249.60,231.34L250.00,229.92L250.40,228.61L250.80,227.41L251.21,226.33L251.61,225.38L252.01,224.55L252.41,223.85L252.82,223.27L253.22,222.82L253.62,222.51L254.02,222.32L254.43,222.26L254.83,222.34L255.23,222.55L255.63,222.88L256.04,223.34L256.44,223.93L256.84,224.65L257.24,225.48L257.65,226.44L258.05,227.51L258.45,228.69L258.85,229.98L259.26,231.38L259.66,232.87L260.06,234.46L260.46,236.14L260.86,237.91L261.27,239.76L261.67,241.68L262.07,243.68L262.47,245.74L262.88,247.85L263.28,250.02L263.68,252.24L264.08,254.50L264.49,256.79L264.89,259.12L265.29,261.46L265.69,263.83L266.10,266.20L266.50,268.59L266.90,270.97L267.30,273.36L267.71,275.73L268.11,278.09L268.51,280.43L268.91,282.75L269.32,285.04L269.72,287.30L270.12,289.53L270.52,291.72L270.92,293.86L271.33,295.97L271.73,298.02L272.13,300.03L272.53,301.98L272.94,303.88L273.34,305.72L273.74,307.50L274.14,309.23L274.55,310.90L274.95,312.51L275.35,314.06L275.75,315.54L276.16,316.97L276.56,318.34L276.96,319.65L277.36,320.89L277.77,322.08L278.17,323.22L278.57,324.29L278.97,325.32L279.38,326.29L279.78,327.21L280.18,328.08L280.58,328.90L280.98,329.67L281.39,330.41L281.79,331.10L282.19,331.75L282.59,332.36L283.00,332.94L283.40,333.48L283.80,334.00L284.20,334.48L284.61,334.94L285.01,335.38L285.41,335.79L285.81,336.19L286.22,336.56L286.62,336.92L287.02,337.27L287.42,337.60L287.83,337.93L288.23,338.24L288.63,338.55L289.03,338.85L289.44,339.15L289.84,339.45L290.24,339.74L290.64,340.03L291.04,340.32L291.45,340.60L291.85,340.88L292.25,341.17L292.65,341.45L293.06,341.73L293.46,342.02L293.86,342.31L294.26,342.60L294.67,342.89L295.07,343.19L295.47,343.49L295.87,343.80L296.28,344.11L296.68,344.43L297.08,344.75L297.48,345.08L297.89,345.41L298.29,345.74L298.69,346.08L299.09,346.43L299.50,346.78L299.90,347.13L300.30,347.49L300.70,347.85L301.10,348.21L301.51,348.57L301.91,348.94L302.31,349.31L302.71,349.68L303.12,350.06L303.52,350.43L303.92,350.81L304.32,351.18L304.73,351.56L305.13,351.93L305.53,352.30L305.93,352.67L306.34,353.04L306.74,353.41L307.14,353.77L307.54,354.14L307.95,354.49L308.35,354.85L308.75,355.20L309.15,355.54L309.56,355.88L309.96,356.22L310.36,356.55L310.76,356.87L311.16,357.19L311.57,357.51L311.97,357.81L312.37,358.12L312.77,358.41L313.18,358.70L313.58,358.98L313.98,359.25L314.38,359.52L314.79,359.78L315.19,360.03L315.59,360.28L315.99,360.52L316.40,360.75L316.80,360.97L317.20,361.19L317.60,361.40L318.01,361.60L318.41,361.80L318.81,361.99L319.21,362.17L319.62,362.35L320.02,362.52L320.42,362.68L320.82,362.84L321.22,362.99L321.63,363.13L322.03,363.27L322.43,363.40L322.83,363.53L323.24,363.65L323.64,363.76L324.04,363.87L324.44,363.98L324.85,364.08L325.25,364.17L325.65,364.26L326.05,364.35L326.46,364.43L326.86,364.51L327.26,364.58L327.66,364.65L328.07,364.71L328.47,364.78L328.87,364.83L329.27,364.89L329.68,364.94L330.08,364.99L330.48,365.04L330.88,365.08L331.28,365.12L331.69,365.16L332.09,365.20L332.49,365.23L332.89,365.26L333.30,365.29L333.70,365.32L334.10,365.35L334.50,365.37L334.91,365.39L335.31,365.41L335.71,365.43L336.11,365.45L336.52,365.47L336.92,365.48L337.32,365.50L337.72,365.51L338.13,365.52L338.53,365.54L338.93,365.55L339.33,365.56L339.74,365.57L340.14,365.58L340.54,365.58L340.94,365.59L341.34,365.60L341.75,365.60L342.15,365.61L342.55,365.61L342.95,365.62L343.36,365.62L343.76,365.63L344.16,365.63L344.56,365.64L344.97,365.64L345.37,365.64L345.77,365.64L346.17,365.65L346.58,365.65L346.98,365.65L347.38,365.65L347.78,365.65L348.19,365.66L348.59,365.66L348.99,365.66L349.39,365.66L349.80,365.66L350.20,365.66L350.60,365.66L351.00,365.66L351.40,365.66L351.81,365.66L352.21,365.67L352.61,365.67L353.01,365.67L353.42,365.67L353.82,365.67L354.22,365.67L354.62,365.67L355.03,365.67L355.43,365.67L355.83,365.67L356.23,365.67L356.64,365.67L357.04,365.67L357.44,365.67L357.84,365.67L358.25,365.67L358.65,365.67L359.05,365.67L359.45,365.67L359.86,365.67L360.26,365.67L360.66,365.67L361.06,365.67L361.46,365.67L361.87,365.67L362.27,365.67L362.67,365.67L363.07,365.67L363.48,365.67L363.88,365.67L364.28,365.67L364.68,365.67L365.09,365.67L365.49,365.67L365.89,365.67L366.29,365.67L366.70,365.67L367.10,365.67L367.50,365.67L367.90,365.67L368.31,365.67L368.71,365.67L369.11,365.67L369.51,365.67L369.92,365.67L370.32,365.67L370.72,365.67L371.12,365.67L371.52,365.67L371.93,365.67L372.33,365.67L372.73,365.67" fill="none" stroke="#ff00ff" stroke-width="1.0" stroke-dasharray="2.5 3"/>
<text x="141.9" y="349.41" font-size="7.8" text-anchor="end" fill="#2a2a2a" stroke="#2a2a2a" stroke-width="0.1" letter-spacing="0">5000</text>
<text x="141.9" y="317.91" font-size="7.8" text-anchor="end" fill="#2a2a2a" stroke="#2a2a2a" stroke-width="0.1" letter-spacing="0">10000</text>
<text x="141.9" y="286.41" font-size="7.8" text-anchor="end" fill="#2a2a2a" stroke="#2a2a2a" stroke-width="0.1" letter-spacing="0">15000</text>
<text x="141.9" y="254.91" font-size="7.8" text-anchor="end" fill="#2a2a2a" stroke="#2a2a2a" stroke-width="0.1" letter-spacing="0">20000</text>
<text x="141.9" y="223.41" font-size="7.8" text-anchor="end" fill="#2a2a2a" stroke="#2a2a2a" stroke-width="0.1" letter-spacing="0">25000</text>
<text x="149.00" y="383.5" font-size="7.7" text-anchor="middle" fill="#2a2a2a" stroke="#2a2a2a" stroke-width="0.1" letter-spacing="0.2">538</text>
<text x="189.24" y="383.5" font-size="7.7" text-anchor="middle" fill="#2a2a2a" stroke="#2a2a2a" stroke-width="0.1" letter-spacing="0.2">536</text>
<text x="229.48" y="383.5" font-size="7.7" text-anchor="middle" fill="#2a2a2a" stroke="#2a2a2a" stroke-width="0.1" letter-spacing="0.2">534</text>
<text x="269.72" y="383.5" font-size="7.7" text-anchor="middle" fill="#2a2a2a" stroke="#2a2a2a" stroke-width="0.1" letter-spacing="0.2">532</text>
<text x="309.96" y="383.5" font-size="7.7" text-anchor="middle" fill="#2a2a2a" stroke="#2a2a2a" stroke-width="0.1" letter-spacing="0.2">530</text>
<text x="350.20" y="383.5" font-size="7.7" text-anchor="middle" fill="#2a2a2a" stroke="#2a2a2a" stroke-width="0.1" letter-spacing="0.2">528</text>
<text x="260.15" y="397.9" font-size="7" text-anchor="middle" fill="#2a2a2a" stroke="#2a2a2a" stroke-width="0.06" letter-spacing="1.05">BE (eV)</text>
<text transform="translate(113.1,288.9) rotate(-90) scale(1,0.8)" font-size="8.7" text-anchor="middle" fill="#2a2a2a" stroke="#2a2a2a" stroke-width="0.25">Intensity (count/s)</text>
<text x="158.7" y="228.6" font-size="17.3" fill="#000">c)</text>
<text x="153.2" y="249.4" font-size="17.3" fill="#000">CUR/CS/Ag</text>
<path d="M307.50,217.80h3l-1.5,2.6z" fill="#111"/>
<text x="319.5" y="221.20" font-size="7" fill="#2a2a2a" stroke="#2a2a2a" stroke-width="0.14" letter-spacing="0.8">Experiment</text>
<path d="M299.3,229.50h19.3" stroke="#0000ff" stroke-width="1.6"/>
<text x="319.5" y="231.70" font-size="7" fill="#2a2a2a" stroke="#2a2a2a" stroke-width="0.14" letter-spacing="0.8">C-O</text>
<path d="M299.3,240.00h19.3" stroke="#008000" stroke-width="1.6"/>
<text x="319.5" y="242.20" font-size="7" fill="#2a2a2a" stroke="#2a2a2a" stroke-width="0.14" letter-spacing="0.8">C=O</text>
<path d="M299.8,250.50h19" stroke="#ff00ff" stroke-width="1.1" stroke-dasharray="3.8 3.4"/>
<text x="319.5" y="252.70" font-size="7" fill="#2a2a2a" stroke="#2a2a2a" stroke-width="0.14" letter-spacing="0.8">Envelope</text>
<text x="156.5" y="274.1"  font-size="6.8" fill="#222" stroke="#222" stroke-width="0.2" letter-spacing="0.85">[C-O] = 86%</text>
<text x="156.5" y="284.3"  font-size="6.8" fill="#222" stroke="#222" stroke-width="0.2" letter-spacing="0.85">[C=O] = 14%</text>
</svg>
</body></html>
